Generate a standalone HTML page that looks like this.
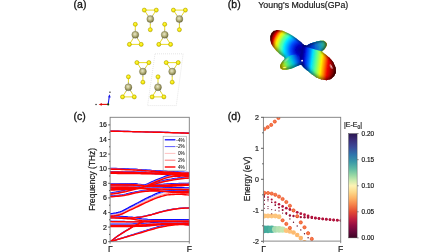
<!DOCTYPE html>
<html><head><meta charset="utf-8"><title>Figure</title>
<style>html,body{margin:0;padding:0;background:#fff;overflow:hidden}svg{display:block}text{font-family:"Liberation Sans", Arial, sans-serif;fill:#151515;stroke:#151515;stroke-width:0.18px}</style>
</head><body>
<svg width="448" height="252" viewBox="0 0 448 252">
<defs>
<radialGradient id="gBig" cx="0.44" cy="0.4" r="0.6"><stop offset="0" stop-color="#e9e7c8"/><stop offset="0.35" stop-color="#c9c698"/><stop offset="0.72" stop-color="#9c9860"/><stop offset="1" stop-color="#6a673a"/></radialGradient>
<radialGradient id="gOr" cx="0.5" cy="0.5" r="0.5"><stop offset="0" stop-color="#f98a5c"/><stop offset="0.45" stop-color="#f4602c"/><stop offset="1" stop-color="#ee4310"/></radialGradient>
<radialGradient id="gSm" cx="0.45" cy="0.42" r="0.6"><stop offset="0" stop-color="#fffa50"/><stop offset="0.6" stop-color="#f6e800"/><stop offset="1" stop-color="#d2c200"/></radialGradient>
<radialGradient id="gUL" gradientUnits="userSpaceOnUse" cx="300.8" cy="50.1" r="33"><stop offset="0" stop-color="#000094"/><stop offset="0.15" stop-color="#0000c0"/><stop offset="0.315" stop-color="#0050ff"/><stop offset="0.41" stop-color="#00a0ff"/><stop offset="0.506" stop-color="#00e8ff"/><stop offset="0.575" stop-color="#40ffc0"/><stop offset="0.642" stop-color="#70ff80"/><stop offset="0.71" stop-color="#c8ff30"/><stop offset="0.773" stop-color="#fff000"/><stop offset="0.84" stop-color="#ff8800"/><stop offset="0.9" stop-color="#f00000"/><stop offset="0.97" stop-color="#8c0000"/><stop offset="1" stop-color="#6c0000"/></radialGradient>
<linearGradient id="gLR" gradientUnits="userSpaceOnUse" x1="300.8" y1="66" x2="335.5" y2="70.3"><stop offset="0" stop-color="#000094"/><stop offset="0.05" stop-color="#0000b8"/><stop offset="0.117" stop-color="#0030f0"/><stop offset="0.214" stop-color="#0080ff"/><stop offset="0.294" stop-color="#00e0ff"/><stop offset="0.414" stop-color="#60ff90"/><stop offset="0.511" stop-color="#c0ff30"/><stop offset="0.571" stop-color="#fff000"/><stop offset="0.669" stop-color="#ff8000"/><stop offset="0.769" stop-color="#f00000"/><stop offset="0.906" stop-color="#900000"/><stop offset="0.983" stop-color="#600000"/></linearGradient>
<linearGradient id="gLL" gradientUnits="userSpaceOnUse" x1="300" y1="58" x2="280.1" y2="66.4"><stop offset="0" stop-color="#0010b0"/><stop offset="0.12" stop-color="#0040e0"/><stop offset="0.26" stop-color="#0088ec"/><stop offset="0.4" stop-color="#00c8dc"/><stop offset="0.56" stop-color="#30e0a0"/><stop offset="0.7" stop-color="#70f060"/><stop offset="0.85" stop-color="#c0e810"/><stop offset="1" stop-color="#e0d000"/></linearGradient>
<linearGradient id="gUR" gradientUnits="userSpaceOnUse" x1="304.5" y1="47.5" x2="327" y2="44.2"><stop offset="0" stop-color="#000890"/><stop offset="0.3" stop-color="#0030c8"/><stop offset="0.5" stop-color="#0868d0"/><stop offset="0.7" stop-color="#1898c0"/><stop offset="0.86" stop-color="#30b088"/><stop offset="1" stop-color="#70a030"/></linearGradient>
<linearGradient id="gCB" x1="0" y1="0" x2="0" y2="1"><stop offset="0" stop-color="#2a1650"/><stop offset="0.06" stop-color="#3a2c78"/><stop offset="0.13" stop-color="#3b4a98"/><stop offset="0.2" stop-color="#2f74ac"/><stop offset="0.27" stop-color="#3a98a8"/><stop offset="0.34" stop-color="#62bca4"/><stop offset="0.4" stop-color="#98d8a4"/><stop offset="0.45" stop-color="#ccebae"/><stop offset="0.5" stop-color="#fdf3b4"/><stop offset="0.56" stop-color="#fdd98a"/><stop offset="0.62" stop-color="#fdb365"/><stop offset="0.68" stop-color="#f6834a"/><stop offset="0.75" stop-color="#e34a33"/><stop offset="0.82" stop-color="#c01f40"/><stop offset="0.88" stop-color="#930c41"/><stop offset="0.94" stop-color="#66083a"/><stop offset="1" stop-color="#3c0424"/></linearGradient>
<filter id="bl1" x="-20%" y="-20%" width="140%" height="140%"><feGaussianBlur stdDeviation="1.1"/></filter>
<filter id="bl15" x="-20%" y="-20%" width="140%" height="140%"><feGaussianBlur stdDeviation="1.5"/></filter>
<filter id="bl08" x="-20%" y="-20%" width="140%" height="140%"><feGaussianBlur stdDeviation="0.8"/></filter>
<filter id="bl05" x="-20%" y="-20%" width="140%" height="140%"><feGaussianBlur stdDeviation="0.5"/></filter>
<filter id="soft" x="-5%" y="-5%" width="110%" height="110%"><feGaussianBlur stdDeviation="0.35"/></filter>
<clipPath id="cpShape"><path d="M305.20 45.30C302.07 44.23 303.90 44.17 299.70 41.00C295.50 37.83 297.37 38.80 292.60 35.80C287.83 32.80 289.70 33.83 285.40 32.00C281.10 30.17 283.03 30.80 279.70 30.30C276.37 29.80 277.77 29.93 275.40 30.50C273.03 31.07 274.10 30.63 272.60 32.00C271.10 33.37 271.70 32.57 270.90 34.60C270.10 36.63 270.27 35.73 270.20 38.10C270.13 40.47 270.07 39.30 270.70 41.70C271.33 44.10 270.77 42.90 272.10 45.30C273.43 47.70 272.63 46.43 274.70 48.90C276.77 51.37 276.00 50.47 278.30 52.70C280.60 54.93 279.57 53.77 281.60 55.60C283.63 57.43 283.93 56.53 284.40 58.20C284.87 59.87 284.03 59.00 283.00 60.60C281.97 62.20 282.23 61.47 281.30 63.00C280.37 64.53 280.57 63.80 280.20 65.20C279.83 66.60 279.80 65.97 280.20 67.20C280.60 68.43 279.97 68.07 281.40 68.90C282.83 69.73 282.00 69.60 284.50 69.70C287.00 69.80 286.00 69.80 288.90 69.20C291.80 68.60 290.30 68.93 293.20 67.90C296.10 66.87 294.93 67.10 297.60 66.10C300.27 65.10 299.17 64.43 301.20 64.90C303.23 65.37 301.40 65.37 303.70 67.50C306.00 69.63 304.97 68.70 308.10 71.30C311.23 73.90 309.50 72.87 313.10 75.30C316.70 77.73 315.07 77.03 318.90 78.60C322.73 80.17 321.27 79.67 324.60 80.00C327.93 80.33 326.30 80.37 328.90 79.60C331.50 78.83 330.40 79.37 332.40 77.70C334.40 76.03 333.77 77.07 334.90 74.60C336.03 72.13 335.90 73.40 335.80 70.30C335.70 67.20 335.97 68.63 334.60 65.30C333.23 61.97 334.10 63.40 331.70 60.30C329.30 57.20 329.97 58.37 327.40 56.00C324.83 53.63 325.73 54.70 324.00 53.20C322.27 51.70 322.13 52.70 322.20 51.50C322.27 50.30 322.97 51.07 324.20 49.60C325.43 48.13 325.07 48.70 325.90 47.10C326.73 45.50 326.57 46.13 326.70 44.80C326.83 43.47 326.93 44.23 326.30 43.10C325.67 41.97 326.17 42.20 324.80 41.40C323.43 40.60 324.50 40.73 322.20 40.70C319.90 40.67 320.80 40.67 317.90 41.30C315.00 41.93 316.43 41.63 313.50 42.60C310.57 43.57 311.87 43.30 309.10 44.20C306.33 45.10 308.33 46.37 305.20 45.30Z"/></clipPath>
<clipPath id="cpC"><rect x="110.1" y="117.3" width="79.2" height="124.4"/></clipPath>
<clipPath id="cpD"><rect x="263.4" y="117.3" width="77.3" height="123.8"/></clipPath>
</defs>
<rect width="448" height="252" fill="#fff"/>
<text x="73.6" y="7.9" font-size="10.5" style="stroke-width:0.32px">(a)</text>
<text x="227.8" y="7.5" font-size="10.5" style="stroke-width:0.32px">(b)</text>
<text x="73.4" y="119.5" font-size="10.5" style="stroke-width:0.32px">(c)</text>
<text x="227.8" y="119.5" font-size="10.5" style="stroke-width:0.32px">(d)</text>
<text x="258.3" y="8.1" font-size="8.7" textLength="90" lengthAdjust="spacingAndGlyphs">Young's Modulus(GPa)</text>
<g id="panel-a">
<path d="M155 53.8 L183.1 53.8 L176.3 105.6 L147.6 105.6 Z" fill="none" stroke="#cdcdcd" stroke-width="0.5" stroke-dasharray="1 1"/>
<path d="M150.3 19.1 L150.3 24.4M150.3 19.1 L147.3 14.6M150.3 19.1 L153.3 14.6" fill="none" stroke="#a9a56a" stroke-width="0.9"/><path d="M144.3 10.1 L156.3 10.1M150.3 24.4 L150.3 29.7M147.3 14.6 L144.3 10.1M153.3 14.6 L156.3 10.1" fill="none" stroke="#e6d70c" stroke-width="0.9" stroke-linecap="round"/><circle cx="150.3" cy="29.7" r="2.05" fill="url(#gSm)" stroke="#a99c00" stroke-width="0.5"/><circle cx="144.3" cy="10.1" r="2.05" fill="url(#gSm)" stroke="#a99c00" stroke-width="0.5"/><circle cx="156.3" cy="10.1" r="2.05" fill="url(#gSm)" stroke="#a99c00" stroke-width="0.5"/><circle cx="150.3" cy="19.1" r="3.5" fill="url(#gBig)" stroke="#66633a" stroke-width="0.3"/>
<path d="M179.4 19.1 L179.4 24.4M179.4 19.1 L176.4 14.6M179.4 19.1 L182.4 14.6" fill="none" stroke="#a9a56a" stroke-width="0.9"/><path d="M173.4 10.1 L185.4 10.1M179.4 24.4 L179.4 29.7M176.4 14.6 L173.4 10.1M182.4 14.6 L185.4 10.1" fill="none" stroke="#e6d70c" stroke-width="0.9" stroke-linecap="round"/><circle cx="179.4" cy="29.7" r="2.05" fill="url(#gSm)" stroke="#a99c00" stroke-width="0.5"/><circle cx="173.4" cy="10.1" r="2.05" fill="url(#gSm)" stroke="#a99c00" stroke-width="0.5"/><circle cx="185.4" cy="10.1" r="2.05" fill="url(#gSm)" stroke="#a99c00" stroke-width="0.5"/><circle cx="179.4" cy="19.1" r="3.5" fill="url(#gBig)" stroke="#66633a" stroke-width="0.3"/>
<path d="M135.3 34.8 L135.3 29.5M135.3 34.8 L132.4 39.6M135.3 34.8 L138.2 39.6" fill="none" stroke="#a9a56a" stroke-width="0.9"/><path d="M129.4 44.4 L141.2 44.4M135.3 29.5 L135.3 24.3M132.4 39.6 L129.4 44.4M138.2 39.6 L141.2 44.4" fill="none" stroke="#e6d70c" stroke-width="0.9" stroke-linecap="round"/><circle cx="135.3" cy="24.3" r="2.05" fill="url(#gSm)" stroke="#a99c00" stroke-width="0.5"/><circle cx="129.4" cy="44.4" r="2.05" fill="url(#gSm)" stroke="#a99c00" stroke-width="0.5"/><circle cx="141.2" cy="44.4" r="2.05" fill="url(#gSm)" stroke="#a99c00" stroke-width="0.5"/><circle cx="135.3" cy="34.8" r="3.5" fill="url(#gBig)" stroke="#66633a" stroke-width="0.3"/>
<path d="M164.7 34.8 L164.7 29.5M164.7 34.8 L161.8 39.6M164.7 34.8 L167.6 39.6" fill="none" stroke="#a9a56a" stroke-width="0.9"/><path d="M158.8 44.4 L170.6 44.4M164.7 29.5 L164.7 24.3M161.8 39.6 L158.8 44.4M167.6 39.6 L170.6 44.4" fill="none" stroke="#e6d70c" stroke-width="0.9" stroke-linecap="round"/><circle cx="164.7" cy="24.3" r="2.05" fill="url(#gSm)" stroke="#a99c00" stroke-width="0.5"/><circle cx="158.8" cy="44.4" r="2.05" fill="url(#gSm)" stroke="#a99c00" stroke-width="0.5"/><circle cx="170.6" cy="44.4" r="2.05" fill="url(#gSm)" stroke="#a99c00" stroke-width="0.5"/><circle cx="164.7" cy="34.8" r="3.5" fill="url(#gBig)" stroke="#66633a" stroke-width="0.3"/>
<path d="M142.9 71.6 L142.9 76.9M142.9 71.6 L139.9 67.1M142.9 71.6 L145.9 67.1" fill="none" stroke="#a9a56a" stroke-width="0.9"/><path d="M136.9 62.6 L148.9 62.6M142.9 76.9 L142.9 82.2M139.9 67.1 L136.9 62.6M145.9 67.1 L148.9 62.6" fill="none" stroke="#e6d70c" stroke-width="0.9" stroke-linecap="round"/><circle cx="142.9" cy="82.2" r="2.05" fill="url(#gSm)" stroke="#a99c00" stroke-width="0.5"/><circle cx="136.9" cy="62.6" r="2.05" fill="url(#gSm)" stroke="#a99c00" stroke-width="0.5"/><circle cx="148.9" cy="62.6" r="2.05" fill="url(#gSm)" stroke="#a99c00" stroke-width="0.5"/><circle cx="142.9" cy="71.6" r="3.5" fill="url(#gBig)" stroke="#66633a" stroke-width="0.3"/>
<path d="M172.2 71.6 L172.2 76.9M172.2 71.6 L169.2 67.1M172.2 71.6 L175.2 67.1" fill="none" stroke="#a9a56a" stroke-width="0.9"/><path d="M166.2 62.6 L178.2 62.6M172.2 76.9 L172.2 82.2M169.2 67.1 L166.2 62.6M175.2 67.1 L178.2 62.6" fill="none" stroke="#e6d70c" stroke-width="0.9" stroke-linecap="round"/><circle cx="172.2" cy="82.2" r="2.05" fill="url(#gSm)" stroke="#a99c00" stroke-width="0.5"/><circle cx="166.2" cy="62.6" r="2.05" fill="url(#gSm)" stroke="#a99c00" stroke-width="0.5"/><circle cx="178.2" cy="62.6" r="2.05" fill="url(#gSm)" stroke="#a99c00" stroke-width="0.5"/><circle cx="172.2" cy="71.6" r="3.5" fill="url(#gBig)" stroke="#66633a" stroke-width="0.3"/>
<path d="M128.4 87.3 L128.4 82.0M128.4 87.3 L125.5 92.1M128.4 87.3 L131.4 92.1" fill="none" stroke="#a9a56a" stroke-width="0.9"/><path d="M122.5 96.9 L134.3 96.9M128.4 82.0 L128.4 76.8M125.5 92.1 L122.5 96.9M131.4 92.1 L134.3 96.9" fill="none" stroke="#e6d70c" stroke-width="0.9" stroke-linecap="round"/><circle cx="128.4" cy="76.8" r="2.05" fill="url(#gSm)" stroke="#a99c00" stroke-width="0.5"/><circle cx="122.5" cy="96.9" r="2.05" fill="url(#gSm)" stroke="#a99c00" stroke-width="0.5"/><circle cx="134.3" cy="96.9" r="2.05" fill="url(#gSm)" stroke="#a99c00" stroke-width="0.5"/><circle cx="128.4" cy="87.3" r="3.5" fill="url(#gBig)" stroke="#66633a" stroke-width="0.3"/>
<path d="M158.0 87.3 L158.0 82.0M158.0 87.3 L155.1 92.1M158.0 87.3 L160.9 92.1" fill="none" stroke="#a9a56a" stroke-width="0.9"/><path d="M152.1 96.9 L163.9 96.9M158.0 82.0 L158.0 76.8M155.1 92.1 L152.1 96.9M160.9 92.1 L163.9 96.9" fill="none" stroke="#e6d70c" stroke-width="0.9" stroke-linecap="round"/><circle cx="158.0" cy="76.8" r="2.05" fill="url(#gSm)" stroke="#a99c00" stroke-width="0.5"/><circle cx="152.1" cy="96.9" r="2.05" fill="url(#gSm)" stroke="#a99c00" stroke-width="0.5"/><circle cx="163.9" cy="96.9" r="2.05" fill="url(#gSm)" stroke="#a99c00" stroke-width="0.5"/><circle cx="158.0" cy="87.3" r="3.5" fill="url(#gBig)" stroke="#66633a" stroke-width="0.3"/>
<path d="M108.2 104.4 L101 104.4" stroke="#e00808" stroke-width="1.1"/><path d="M98.6 104.4 l3.2 -1.35 v2.7 z" fill="#e00808"/>
<path d="M108.2 104.4 L109.2 97" stroke="#1414e8" stroke-width="1.1"/><path d="M109.55 94.2 l1.15 3.3 l-2.7 -0.35 z" fill="#1414e8"/>
<circle cx="108.2" cy="104.4" r="1.05" fill="#0b4f0b"/>
<rect x="95.4" y="103.9" width="1.3" height="1.2" fill="#222"/><rect x="109.3" y="91.6" width="1.3" height="1.2" fill="#222"/>
</g>
<g id="panel-b" filter="url(#soft)">
<g clip-path="url(#cpShape)">
<rect x="265" y="25" width="80" height="60" fill="url(#gUL)"/>
<path d="M306 30 L302 48 L299.5 56 L300.5 72 L345 90 L345 30 Z" fill="url(#gLR)" filter="url(#bl05)"/>
<path d="M303.5 46.3 L306 44 L314 40 L323 39 L329 43 L328.5 48 L322.6 51.6 L316 49.8 L310 47.9 Z" fill="url(#gUR)" filter="url(#bl05)"/>
<path d="M303 62.8 L299.5 58.5 L296 54.6 L291.5 54.9 L288.9 56.2 L285.4 58.8 L281.9 62.3 L278.5 66.4 L280 70.5 L286 71.2 L294 69.5 L302.5 65.5 Z" fill="url(#gLL)" filter="url(#bl05)"/>
<path d="M305.20 45.30C302.07 44.23 303.90 44.17 299.70 41.00C295.50 37.83 297.37 38.80 292.60 35.80C287.83 32.80 289.70 33.83 285.40 32.00C281.10 30.17 283.03 30.80 279.70 30.30C276.37 29.80 277.77 29.93 275.40 30.50C273.03 31.07 274.10 30.63 272.60 32.00C271.10 33.37 271.70 32.57 270.90 34.60C270.10 36.63 270.27 35.73 270.20 38.10C270.13 40.47 270.07 39.30 270.70 41.70C271.33 44.10 270.77 42.90 272.10 45.30C273.43 47.70 272.63 46.43 274.70 48.90C276.77 51.37 276.00 50.47 278.30 52.70C280.60 54.93 279.57 53.77 281.60 55.60C283.63 57.43 283.93 56.53 284.40 58.20C284.87 59.87 284.03 59.00 283.00 60.60C281.97 62.20 282.23 61.47 281.30 63.00C280.37 64.53 280.57 63.80 280.20 65.20C279.83 66.60 279.80 65.97 280.20 67.20C280.60 68.43 279.97 68.07 281.40 68.90C282.83 69.73 282.00 69.60 284.50 69.70C287.00 69.80 286.00 69.80 288.90 69.20C291.80 68.60 290.30 68.93 293.20 67.90C296.10 66.87 294.93 67.10 297.60 66.10C300.27 65.10 299.17 64.43 301.20 64.90C303.23 65.37 301.40 65.37 303.70 67.50C306.00 69.63 304.97 68.70 308.10 71.30C311.23 73.90 309.50 72.87 313.10 75.30C316.70 77.73 315.07 77.03 318.90 78.60C322.73 80.17 321.27 79.67 324.60 80.00C327.93 80.33 326.30 80.37 328.90 79.60C331.50 78.83 330.40 79.37 332.40 77.70C334.40 76.03 333.77 77.07 334.90 74.60C336.03 72.13 335.90 73.40 335.80 70.30C335.70 67.20 335.97 68.63 334.60 65.30C333.23 61.97 334.10 63.40 331.70 60.30C329.30 57.20 329.97 58.37 327.40 56.00C324.83 53.63 325.73 54.70 324.00 53.20C322.27 51.70 322.13 52.70 322.20 51.50C322.27 50.30 322.97 51.07 324.20 49.60C325.43 48.13 325.07 48.70 325.90 47.10C326.73 45.50 326.57 46.13 326.70 44.80C326.83 43.47 326.93 44.23 326.30 43.10C325.67 41.97 326.17 42.20 324.80 41.40C323.43 40.60 324.50 40.73 322.20 40.70C319.90 40.67 320.80 40.67 317.90 41.30C315.00 41.93 316.43 41.63 313.50 42.60C310.57 43.57 311.87 43.30 309.10 44.20C306.33 45.10 308.33 46.37 305.20 45.30Z" fill="none" stroke="#000" stroke-opacity="0.5" stroke-width="1.7" filter="url(#bl08)"/>
<path d="M305.20 45.30C302.07 44.23 303.90 44.17 299.70 41.00C295.50 37.83 297.37 38.80 292.60 35.80C287.83 32.80 289.70 33.83 285.40 32.00C281.10 30.17 283.03 30.80 279.70 30.30C276.37 29.80 277.77 29.93 275.40 30.50C273.03 31.07 274.10 30.63 272.60 32.00C271.10 33.37 271.70 32.57 270.90 34.60C270.10 36.63 270.27 35.73 270.20 38.10C270.13 40.47 270.07 39.30 270.70 41.70C271.33 44.10 270.77 42.90 272.10 45.30C273.43 47.70 272.63 46.43 274.70 48.90C276.77 51.37 276.00 50.47 278.30 52.70C280.60 54.93 279.57 53.77 281.60 55.60C283.63 57.43 283.93 56.53 284.40 58.20C284.87 59.87 284.03 59.00 283.00 60.60C281.97 62.20 282.23 61.47 281.30 63.00C280.37 64.53 280.57 63.80 280.20 65.20C279.83 66.60 279.80 65.97 280.20 67.20C280.60 68.43 279.97 68.07 281.40 68.90C282.83 69.73 282.00 69.60 284.50 69.70C287.00 69.80 286.00 69.80 288.90 69.20C291.80 68.60 290.30 68.93 293.20 67.90C296.10 66.87 294.93 67.10 297.60 66.10C300.27 65.10 299.17 64.43 301.20 64.90C303.23 65.37 301.40 65.37 303.70 67.50C306.00 69.63 304.97 68.70 308.10 71.30C311.23 73.90 309.50 72.87 313.10 75.30C316.70 77.73 315.07 77.03 318.90 78.60C322.73 80.17 321.27 79.67 324.60 80.00C327.93 80.33 326.30 80.37 328.90 79.60C331.50 78.83 330.40 79.37 332.40 77.70C334.40 76.03 333.77 77.07 334.90 74.60C336.03 72.13 335.90 73.40 335.80 70.30C335.70 67.20 335.97 68.63 334.60 65.30C333.23 61.97 334.10 63.40 331.70 60.30C329.30 57.20 329.97 58.37 327.40 56.00C324.83 53.63 325.73 54.70 324.00 53.20C322.27 51.70 322.13 52.70 322.20 51.50C322.27 50.30 322.97 51.07 324.20 49.60C325.43 48.13 325.07 48.70 325.90 47.10C326.73 45.50 326.57 46.13 326.70 44.80C326.83 43.47 326.93 44.23 326.30 43.10C325.67 41.97 326.17 42.20 324.80 41.40C323.43 40.60 324.50 40.73 322.20 40.70C319.90 40.67 320.80 40.67 317.90 41.30C315.00 41.93 316.43 41.63 313.50 42.60C310.57 43.57 311.87 43.30 309.10 44.20C306.33 45.10 308.33 46.37 305.20 45.30Z" fill="none" stroke="#000" stroke-opacity="0.3" stroke-width="2.6" transform="translate(0.6 -1.3)" filter="url(#bl15)"/>
<path d="M271 44 Q277 54 288 59 L300 62 Q309 76 322 80 L336 78 L336 86 L268 86 Z" fill="#000" fill-opacity="0.0"/>
<ellipse cx="331.2" cy="66.6" rx="0.8" ry="2.6" transform="rotate(-28 331.2 66.6)" fill="#fff" fill-opacity="0.7" filter="url(#bl05)"/>
<ellipse cx="284.6" cy="67.5" rx="2.0" ry="0.75" transform="rotate(-10 284.6 67.5)" fill="#ffff60" fill-opacity="0.95" filter="url(#bl05)"/>
<ellipse cx="286.3" cy="60" rx="3.5" ry="0.8" transform="rotate(-38 286.3 60)" fill="#c0fff0" fill-opacity="0.45" filter="url(#bl05)"/>
<circle cx="302.1" cy="60.7" r="0.9" fill="#fff"/>
</g></g>
<g id="panel-c">
<g clip-path="url(#cpC)" fill="none" stroke-linejoin="round">
<path d="M110.1 131.0L112.1 131.1L114.1 131.1L116.0 131.1L118.0 131.2L120.0 131.2L122.0 131.3L124.0 131.3L125.9 131.3L127.9 131.4L129.9 131.4L131.9 131.5L133.9 131.5L135.8 131.6L137.8 131.6L139.8 131.7L141.8 131.7L143.8 131.8L145.7 131.8L147.7 131.8L149.7 131.9L151.7 131.9L153.7 132.0L155.6 132.1L157.6 132.1L159.6 132.2L161.6 132.2L163.6 132.3L165.5 132.3L167.5 132.4L169.5 132.4L171.5 132.5L173.5 132.6L175.4 132.6L177.4 132.7L179.4 132.7L181.4 132.8L183.4 132.9L185.3 132.9L187.3 133.0L189.3 133.1M110.1 168.3L112.1 168.3L114.1 168.4L116.0 168.4L118.0 168.5L120.0 168.6L122.0 168.6L124.0 168.7L125.9 168.8L127.9 168.9L129.9 169.0L131.9 169.0L133.9 169.1L135.8 169.2L137.8 169.4L139.8 169.5L141.8 169.6L143.8 169.8L145.7 169.9L147.7 170.1L149.7 170.2L151.7 170.4L153.7 170.5L155.6 170.6L157.6 170.8L159.6 170.9L161.6 171.0L163.6 171.1L165.5 171.2L167.5 171.4L169.5 171.5L171.5 171.6L173.5 171.7L175.4 171.8L177.4 171.9L179.4 172.0L181.4 172.1L183.4 172.2L185.3 172.3L187.3 172.4L189.3 172.5M110.1 171.7L112.1 171.7L114.1 171.7L116.0 171.7L118.0 171.7L120.0 171.8L122.0 171.8L124.0 171.8L125.9 171.8L127.9 171.8L129.9 171.9L131.9 171.9L133.9 171.9L135.8 172.0L137.8 172.0L139.8 172.1L141.8 172.1L143.8 172.2L145.7 172.2L147.7 172.3L149.7 172.4L151.7 172.5L153.7 172.5L155.6 172.6L157.6 172.7L159.6 172.7L161.6 172.8L163.6 172.9L165.5 172.9L167.5 173.0L169.5 173.1L171.5 173.1L173.5 173.2L175.4 173.3L177.4 173.3L179.4 173.4L181.4 173.5L183.4 173.5L185.3 173.6L187.3 173.7L189.3 173.8M110.1 173.0L112.1 173.0L114.1 173.0L116.0 173.0L118.0 173.0L120.0 173.1L122.0 173.1L124.0 173.1L125.9 173.1L127.9 173.1L129.9 173.1L131.9 173.1L133.9 173.2L135.8 173.2L137.8 173.2L139.8 173.2L141.8 173.3L143.8 173.3L145.7 173.3L147.7 173.4L149.7 173.4L151.7 173.5L153.7 173.5L155.6 173.6L157.6 173.6L159.6 173.7L161.6 173.7L163.6 173.8L165.5 173.9L167.5 174.0L169.5 174.1L171.5 174.2L173.5 174.3L175.4 174.4L177.4 174.5L179.4 174.6L181.4 174.7L183.4 174.8L185.3 174.9L187.3 175.0L189.3 175.1M110.1 192.8L112.1 192.6L114.1 192.3L116.0 192.0L118.0 191.7L120.0 191.3L122.0 190.9L124.0 190.5L125.9 190.0L127.9 189.5L129.9 189.0L131.9 188.4L133.9 188.0L135.8 187.5L137.8 187.1L139.8 186.6L141.8 186.0L143.8 185.4L145.7 184.6L147.7 183.8L149.7 182.8L151.7 181.9L153.7 181.0L155.6 180.2L157.6 179.4L159.6 178.6L161.6 177.8L163.6 177.0L165.5 176.2L167.5 175.6L169.5 175.1L171.5 174.7L173.5 174.4L175.4 174.3L177.4 174.2L179.4 174.2L181.4 174.1L183.4 174.1L185.3 174.2L187.3 174.3L189.3 174.4M110.1 189.0L112.1 189.0L114.1 188.9L116.0 188.9L118.0 188.8L120.0 188.7L122.0 188.6L124.0 188.5L125.9 188.3L127.9 188.2L129.9 188.0L131.9 187.7L133.9 187.5L135.8 187.3L137.8 187.0L139.8 186.7L141.8 186.4L143.8 186.0L145.7 185.5L147.7 184.9L149.7 184.3L151.7 183.8L153.7 183.2L155.6 182.6L157.6 182.1L159.6 181.5L161.6 181.0L163.6 180.6L165.5 180.1L167.5 179.7L169.5 179.3L171.5 179.0L173.5 178.6L175.4 178.3L177.4 178.1L179.4 177.8L181.4 177.6L183.4 177.3L185.3 177.1L187.3 177.0L189.3 176.8M110.1 183.5L112.1 183.5L114.1 183.5L116.0 183.5L118.0 183.5L120.0 183.5L122.0 183.5L124.0 183.5L125.9 183.5L127.9 183.5L129.9 183.6L131.9 183.6L133.9 183.6L135.8 183.7L137.8 184.1L139.8 184.4L141.8 184.7L143.8 184.8L145.7 184.8L147.7 184.7L149.7 184.7L151.7 184.7L153.7 184.6L155.6 184.5L157.6 184.5L159.6 184.4L161.6 184.3L163.6 184.2L165.5 184.0L167.5 183.9L169.5 183.8L171.5 183.7L173.5 183.6L175.4 183.5L177.4 183.5L179.4 183.4L181.4 183.4L183.4 183.3L185.3 183.3L187.3 183.3L189.3 183.2M110.1 185.1L112.1 185.1L114.1 185.1L116.0 185.1L118.0 185.2L120.0 185.2L122.0 185.2L124.0 185.3L125.9 185.4L127.9 185.4L129.9 185.5L131.9 185.5L133.9 185.6L135.8 185.7L137.8 185.9L139.8 186.2L141.8 186.4L143.8 186.6L145.7 186.7L147.7 186.8L149.7 186.9L151.7 187.0L153.7 187.0L155.6 187.1L157.6 187.1L159.6 187.2L161.6 187.2L163.6 187.3L165.5 187.3L167.5 187.4L169.5 187.4L171.5 187.5L173.5 187.5L175.4 187.6L177.4 187.6L179.4 187.6L181.4 187.7L183.4 187.7L185.3 187.8L187.3 187.8L189.3 187.8M110.1 187.9L112.1 187.7L114.1 187.6L116.0 187.5L118.0 187.4L120.0 187.3L122.0 187.2L124.0 187.2L125.9 187.2L127.9 187.2L129.9 187.1L131.9 187.1L133.9 187.1L135.8 187.2L137.8 187.3L139.8 187.4L141.8 187.5L143.8 187.7L145.7 187.9L147.7 188.1L149.7 188.4L151.7 188.8L153.7 189.1L155.6 189.5L157.6 189.7L159.6 189.9L161.6 190.1L163.6 190.3L165.5 190.5L167.5 190.7L169.5 190.8L171.5 190.8L173.5 190.8L175.4 190.8L177.4 190.8L179.4 190.8L181.4 190.8L183.4 190.7L185.3 190.7L187.3 190.6L189.3 190.5M110.1 184.3L112.1 184.3L114.1 184.3L116.0 184.3L118.0 184.3L120.0 184.3L122.0 184.3L124.0 184.3L125.9 184.4L127.9 184.4L129.9 184.4L131.9 184.5L133.9 184.5L135.8 184.5L137.8 184.6L139.8 184.7L141.8 184.9L143.8 185.1L145.7 185.3L147.7 185.5L149.7 185.6L151.7 185.6L153.7 185.6L155.6 185.6L157.6 185.6L159.6 185.6L161.6 185.6L163.6 185.6L165.5 185.6L167.5 185.6L169.5 185.5L171.5 185.5L173.5 185.4L175.4 185.3L177.4 185.2L179.4 185.1L181.4 185.0L183.4 184.9L185.3 184.7L187.3 184.6L189.3 184.4M110.1 195.8L112.1 195.8L114.1 195.7L116.0 195.5L118.0 195.3L120.0 195.1L122.0 194.9L124.0 194.6L125.9 194.2L127.9 193.7L129.9 193.2L131.9 192.7L133.9 192.3L135.8 191.9L137.8 191.5L139.8 191.1L141.8 190.8L143.8 190.6L145.7 190.3L147.7 190.2L149.7 190.1L151.7 190.1L153.7 190.1L155.6 190.1L157.6 190.1L159.6 190.1L161.6 190.3L163.6 190.4L165.5 190.6L167.5 190.8L169.5 191.0L171.5 191.2L173.5 191.3L175.4 191.4L177.4 191.5L179.4 191.6L181.4 191.7L183.4 191.7L185.3 191.8L187.3 191.9L189.3 191.9M110.1 213.7L112.1 213.5L114.1 213.2L116.0 212.9L118.0 212.4L120.0 211.8L122.0 211.1L124.0 210.1L125.9 209.1L127.9 208.0L129.9 206.9L131.9 205.9L133.9 204.9L135.8 203.8L137.8 202.8L139.8 201.7L141.8 200.6L143.8 199.6L145.7 198.5L147.7 197.6L149.7 196.6L151.7 195.7L153.7 194.7L155.6 193.8L157.6 193.0L159.6 192.3L161.6 191.6L163.6 191.0L165.5 190.4L167.5 190.0L169.5 189.7L171.5 189.6L173.5 189.5L175.4 189.5L177.4 189.4L179.4 189.4L181.4 189.5L183.4 189.6L185.3 189.7L187.3 189.9L189.3 190.2M110.1 217.7L112.1 217.7L114.1 217.7L116.0 217.7L118.0 217.7L120.0 217.7L122.0 217.7L124.0 217.7L125.9 217.7L127.9 217.7L129.9 217.7L131.9 217.7L133.9 217.6L135.8 217.4L137.8 217.2L139.8 217.0L141.8 216.7L143.8 216.3L145.7 215.9L147.7 215.4L149.7 214.9L151.7 214.5L153.7 213.9L155.6 213.3L157.6 212.7L159.6 212.2L161.6 211.7L163.6 211.2L165.5 210.7L167.5 210.2L169.5 209.8L171.5 209.4L173.5 209.1L175.4 208.8L177.4 208.5L179.4 208.3L181.4 208.1L183.4 208.0L185.3 207.9L187.3 207.8L189.3 207.8M110.1 215.9L112.1 215.9L114.1 216.0L116.0 216.0L118.0 216.1L120.0 216.3L122.0 216.4L124.0 216.5L125.9 216.7L127.9 216.9L129.9 217.0L131.9 217.2L133.9 217.6L135.8 217.9L137.8 218.3L139.8 218.6L141.8 218.9L143.8 219.1L145.7 219.2L147.7 219.4L149.7 219.5L151.7 219.6L153.7 219.6L155.6 219.7L157.6 219.7L159.6 219.7L161.6 219.7L163.6 219.7L165.5 219.7L167.5 219.7L169.5 219.7L171.5 219.7L173.5 219.7L175.4 219.7L177.4 219.6L179.4 219.6L181.4 219.6L183.4 219.6L185.3 219.6L187.3 219.6L189.3 219.5M110.1 221.2L112.1 221.3L114.1 221.3L116.0 221.3L118.0 221.4L120.0 221.4L122.0 221.4L124.0 221.4L125.9 221.5L127.9 221.5L129.9 221.5L131.9 221.5L133.9 221.5L135.8 221.5L137.8 221.5L139.8 221.5L141.8 221.4L143.8 221.4L145.7 221.4L147.7 221.3L149.7 221.3L151.7 221.3L153.7 221.2L155.6 221.2L157.6 221.2L159.6 221.2L161.6 221.2L163.6 221.2L165.5 221.1L167.5 221.1L169.5 221.1L171.5 221.1L173.5 221.1L175.4 221.1L177.4 221.1L179.4 221.1L181.4 221.1L183.4 221.1L185.3 221.1L187.3 221.1L189.3 221.1M110.1 224.2L112.1 224.2L114.1 224.2L116.0 224.2L118.0 224.2L120.0 224.2L122.0 224.2L124.0 224.2L125.9 224.2L127.9 224.1L129.9 224.1L131.9 224.0L133.9 223.9L135.8 223.8L137.8 223.6L139.8 223.5L141.8 223.4L143.8 223.3L145.7 223.2L147.7 223.0L149.7 222.9L151.7 222.7L153.7 222.6L155.6 222.4L157.6 222.3L159.6 222.2L161.6 222.1L163.6 222.1L165.5 222.0L167.5 222.0L169.5 222.0L171.5 222.0L173.5 221.9L175.4 221.9L177.4 221.9L179.4 221.9L181.4 221.9L183.4 221.9L185.3 221.9L187.3 221.9L189.3 221.9M110.1 226.3L112.1 226.3L114.1 226.3L116.0 226.3L118.0 226.3L120.0 226.3L122.0 226.3L124.0 226.3L125.9 226.3L127.9 226.3L129.9 226.3L131.9 226.3L133.9 226.3L135.8 226.3L137.8 226.2L139.8 226.1L141.8 226.0L143.8 225.9L145.7 225.8L147.7 225.7L149.7 225.5L151.7 225.4L153.7 225.2L155.6 224.9L157.6 224.7L159.6 224.5L161.6 224.3L163.6 224.1L165.5 224.1L167.5 224.1L169.5 224.1L171.5 224.1L173.5 224.1L175.4 224.1L177.4 224.2L179.4 224.2L181.4 224.3L183.4 224.4L185.3 224.5L187.3 224.6L189.3 224.8M110.1 241.7L112.1 240.2L114.1 238.7L116.0 237.2L118.0 235.8L120.0 234.4L122.0 233.1L124.0 231.9L125.9 230.7L127.9 229.5L129.9 228.3L131.9 227.0L133.9 225.7L135.8 224.6L137.8 223.6L139.8 222.7L141.8 222.0L143.8 221.4L145.7 221.1L147.7 220.8L149.7 220.6L151.7 220.5L153.7 220.4L155.6 220.4L157.6 220.4L159.6 220.4L161.6 220.5L163.6 220.5L165.5 220.5L167.5 220.5L169.5 220.6L171.5 220.6L173.5 220.7L175.4 220.7L177.4 220.8L179.4 220.9L181.4 221.0L183.4 221.2L185.3 221.3L187.3 221.4L189.3 221.6M110.1 241.7L112.1 241.1L114.1 240.5L116.0 239.9L118.0 239.2L120.0 238.6L122.0 238.0L124.0 237.4L125.9 236.8L127.9 236.1L129.9 235.5L131.9 234.9L133.9 234.3L135.8 233.7L137.8 233.1L139.8 232.4L141.8 231.8L143.8 231.2L145.7 230.6L147.7 229.9L149.7 229.3L151.7 228.7L153.7 228.0L155.6 227.5L157.6 226.9L159.6 226.4L161.6 225.9L163.6 225.5L165.5 225.0L167.5 224.7L169.5 224.3L171.5 224.0L173.5 223.8L175.4 223.5L177.4 223.4L179.4 223.4L181.4 223.3L183.4 223.3L185.3 223.2L187.3 223.2L189.3 223.2" stroke="#0000ff" stroke-width="1.25"/>
<path d="M110.1 131.1L112.1 131.1L114.1 131.1L116.0 131.2L118.0 131.2L120.0 131.3L122.0 131.3L124.0 131.3L125.9 131.4L127.9 131.4L129.9 131.5L131.9 131.5L133.9 131.6L135.8 131.6L137.8 131.6L139.8 131.7L141.8 131.7L143.8 131.8L145.7 131.8L147.7 131.9L149.7 131.9L151.7 132.0L153.7 132.0L155.6 132.1L157.6 132.1L159.6 132.2L161.6 132.3L163.6 132.3L165.5 132.4L167.5 132.4L169.5 132.5L171.5 132.5L173.5 132.6L175.4 132.7L177.4 132.7L179.4 132.8L181.4 132.9L183.4 132.9L185.3 133.0L187.3 133.0L189.3 133.1M110.1 168.5L112.1 168.5L114.1 168.6L116.0 168.6L118.0 168.7L120.0 168.8L122.0 168.8L124.0 168.9L125.9 169.0L127.9 169.1L129.9 169.2L131.9 169.3L133.9 169.4L135.8 169.5L137.8 169.6L139.8 169.7L141.8 169.8L143.8 170.0L145.7 170.1L147.7 170.3L149.7 170.4L151.7 170.6L153.7 170.7L155.6 170.8L157.6 171.0L159.6 171.1L161.6 171.2L163.6 171.3L165.5 171.4L167.5 171.6L169.5 171.7L171.5 171.8L173.5 171.9L175.4 172.0L177.4 172.1L179.4 172.2L181.4 172.3L183.4 172.4L185.3 172.5L187.3 172.6L189.3 172.7M110.1 171.8L112.1 171.8L114.1 171.9L116.0 171.9L118.0 171.9L120.0 171.9L122.0 171.9L124.0 171.9L125.9 172.0L127.9 172.0L129.9 172.0L131.9 172.0L133.9 172.1L135.8 172.1L137.8 172.1L139.8 172.2L141.8 172.2L143.8 172.3L145.7 172.4L147.7 172.4L149.7 172.5L151.7 172.6L153.7 172.7L155.6 172.7L157.6 172.8L159.6 172.9L161.6 172.9L163.6 173.0L165.5 173.1L167.5 173.1L169.5 173.2L171.5 173.3L173.5 173.3L175.4 173.4L177.4 173.5L179.4 173.5L181.4 173.6L183.4 173.7L185.3 173.7L187.3 173.8L189.3 173.9M110.1 173.1L112.1 173.1L114.1 173.1L116.0 173.1L118.0 173.1L120.0 173.2L122.0 173.2L124.0 173.2L125.9 173.2L127.9 173.2L129.9 173.2L131.9 173.3L133.9 173.3L135.8 173.3L137.8 173.3L139.8 173.3L141.8 173.4L143.8 173.4L145.7 173.4L147.7 173.5L149.7 173.5L151.7 173.6L153.7 173.6L155.6 173.7L157.6 173.7L159.6 173.8L161.6 173.8L163.6 173.9L165.5 174.0L167.5 174.1L169.5 174.2L171.5 174.3L173.5 174.4L175.4 174.5L177.4 174.6L179.4 174.7L181.4 174.8L183.4 174.9L185.3 175.0L187.3 175.1L189.3 175.2M110.1 193.2L112.1 192.9L114.1 192.7L116.0 192.4L118.0 192.0L120.0 191.7L122.0 191.3L124.0 190.9L125.9 190.4L127.9 189.9L129.9 189.4L131.9 188.8L133.9 188.4L135.8 187.9L137.8 187.5L139.8 187.0L141.8 186.4L143.8 185.8L145.7 185.1L147.7 184.2L149.7 183.2L151.7 182.3L153.7 181.4L155.6 180.6L157.6 179.8L159.6 179.0L161.6 178.2L163.6 177.4L165.5 176.7L167.5 176.1L169.5 175.6L171.5 175.2L173.5 174.9L175.4 174.8L177.4 174.7L179.4 174.7L181.4 174.6L183.4 174.6L185.3 174.7L187.3 174.8L189.3 174.9M110.1 189.2L112.1 189.2L114.1 189.2L116.0 189.1L118.0 189.1L120.0 189.0L122.0 188.9L124.0 188.8L125.9 188.6L127.9 188.4L129.9 188.2L131.9 188.0L133.9 187.8L135.8 187.5L137.8 187.3L139.8 187.0L141.8 186.7L143.8 186.3L145.7 185.7L147.7 185.2L149.7 184.6L151.7 184.1L153.7 183.5L155.6 182.9L157.6 182.4L159.6 181.8L161.6 181.3L163.6 180.9L165.5 180.5L167.5 180.0L169.5 179.6L171.5 179.3L173.5 178.9L175.4 178.6L177.4 178.4L179.4 178.1L181.4 177.9L183.4 177.7L185.3 177.5L187.3 177.3L189.3 177.1M110.1 183.7L112.1 183.7L114.1 183.7L116.0 183.7L118.0 183.8L120.0 183.8L122.0 183.8L124.0 183.8L125.9 183.8L127.9 183.8L129.9 183.8L131.9 183.9L133.9 183.9L135.8 184.0L137.8 184.3L139.8 184.7L141.8 185.0L143.8 185.1L145.7 185.1L147.7 185.0L149.7 185.0L151.7 184.9L153.7 184.9L155.6 184.8L157.6 184.8L159.6 184.7L161.6 184.6L163.6 184.5L165.5 184.3L167.5 184.2L169.5 184.1L171.5 184.0L173.5 183.9L175.4 183.8L177.4 183.8L179.4 183.7L181.4 183.7L183.4 183.6L185.3 183.6L187.3 183.5L189.3 183.5M110.1 185.6L112.1 185.6L114.1 185.6L116.0 185.6L118.0 185.7L120.0 185.7L122.0 185.7L124.0 185.8L125.9 185.8L127.9 185.9L129.9 186.0L131.9 186.0L133.9 186.1L135.8 186.2L137.8 186.4L139.8 186.6L141.8 186.9L143.8 187.1L145.7 187.2L147.7 187.3L149.7 187.4L151.7 187.4L153.7 187.5L155.6 187.6L157.6 187.6L159.6 187.7L161.6 187.7L163.6 187.8L165.5 187.8L167.5 187.8L169.5 187.9L171.5 187.9L173.5 188.0L175.4 188.0L177.4 188.1L179.4 188.1L181.4 188.2L183.4 188.2L185.3 188.2L187.3 188.3L189.3 188.3M110.1 188.1L112.1 188.0L114.1 187.8L116.0 187.7L118.0 187.6L120.0 187.6L122.0 187.5L124.0 187.5L125.9 187.4L127.9 187.4L129.9 187.4L131.9 187.4L133.9 187.4L135.8 187.4L137.8 187.5L139.8 187.6L141.8 187.8L143.8 188.0L145.7 188.1L147.7 188.4L149.7 188.7L151.7 189.0L153.7 189.4L155.6 189.7L157.6 190.0L159.6 190.2L161.6 190.4L163.6 190.6L165.5 190.8L167.5 190.9L169.5 191.0L171.5 191.1L173.5 191.1L175.4 191.1L177.4 191.1L179.4 191.0L181.4 191.0L183.4 191.0L185.3 190.9L187.3 190.8L189.3 190.7M110.1 184.4L112.1 184.4L114.1 184.4L116.0 184.5L118.0 184.5L120.0 184.5L122.0 184.5L124.0 184.5L125.9 184.5L127.9 184.6L129.9 184.6L131.9 184.6L133.9 184.7L135.8 184.7L137.8 184.7L139.8 184.8L141.8 185.0L143.8 185.3L145.7 185.5L147.7 185.7L149.7 185.8L151.7 185.8L153.7 185.8L155.6 185.8L157.6 185.8L159.6 185.8L161.6 185.8L163.6 185.8L165.5 185.8L167.5 185.7L169.5 185.7L171.5 185.7L173.5 185.6L175.4 185.5L177.4 185.4L179.4 185.3L181.4 185.2L183.4 185.0L185.3 184.9L187.3 184.7L189.3 184.6M110.1 196.1L112.1 196.0L114.1 195.9L116.0 195.7L118.0 195.6L120.0 195.3L122.0 195.1L124.0 194.8L125.9 194.4L127.9 194.0L129.9 193.5L131.9 193.0L133.9 192.5L135.8 192.1L137.8 191.7L139.8 191.4L141.8 191.1L143.8 190.8L145.7 190.6L147.7 190.4L149.7 190.3L151.7 190.3L153.7 190.3L155.6 190.3L157.6 190.3L159.6 190.4L161.6 190.5L163.6 190.7L165.5 190.9L167.5 191.1L169.5 191.3L171.5 191.4L173.5 191.5L175.4 191.6L177.4 191.7L179.4 191.8L181.4 191.9L183.4 192.0L185.3 192.1L187.3 192.1L189.3 192.2M110.1 214.4L112.1 214.2L114.1 213.9L116.0 213.5L118.0 213.1L120.0 212.6L122.0 211.8L124.0 210.9L125.9 209.9L127.9 208.8L129.9 207.7L131.9 206.7L133.9 205.7L135.8 204.7L137.8 203.7L139.8 202.6L141.8 201.6L143.8 200.6L145.7 199.6L147.7 198.6L149.7 197.7L151.7 196.8L153.7 195.8L155.6 195.0L157.6 194.2L159.6 193.4L161.6 192.8L163.6 192.2L165.5 191.6L167.5 191.2L169.5 191.0L171.5 190.9L173.5 190.8L175.4 190.7L177.4 190.7L179.4 190.7L181.4 190.7L183.4 190.8L185.3 191.0L187.3 191.2L189.3 191.4M110.1 217.8L112.1 217.8L114.1 217.8L116.0 217.8L118.0 217.8L120.0 217.8L122.0 217.8L124.0 217.8L125.9 217.8L127.9 217.8L129.9 217.8L131.9 217.7L133.9 217.6L135.8 217.5L137.8 217.3L139.8 217.1L141.8 216.8L143.8 216.4L145.7 215.9L147.7 215.5L149.7 215.0L151.7 214.5L153.7 214.0L155.6 213.4L157.6 212.8L159.6 212.2L161.6 211.7L163.6 211.2L165.5 210.8L167.5 210.3L169.5 209.9L171.5 209.5L173.5 209.2L175.4 208.9L177.4 208.6L179.4 208.3L181.4 208.2L183.4 208.0L185.3 207.9L187.3 207.9L189.3 207.8M110.1 216.4L112.1 216.4L114.1 216.5L116.0 216.5L118.0 216.6L120.0 216.7L122.0 216.9L124.0 217.0L125.9 217.2L127.9 217.3L129.9 217.5L131.9 217.7L133.9 218.0L135.8 218.4L137.8 218.7L139.8 219.1L141.8 219.4L143.8 219.6L145.7 219.7L147.7 219.8L149.7 219.9L151.7 220.0L153.7 220.0L155.6 220.1L157.6 220.1L159.6 220.1L161.6 220.1L163.6 220.1L165.5 220.1L167.5 220.1L169.5 220.1L171.5 220.1L173.5 220.1L175.4 220.1L177.4 220.1L179.4 220.1L181.4 220.0L183.4 220.0L185.3 220.0L187.3 220.0L189.3 220.0M110.1 221.3L112.1 221.4L114.1 221.4L116.0 221.4L118.0 221.5L120.0 221.5L122.0 221.5L124.0 221.5L125.9 221.6L127.9 221.6L129.9 221.6L131.9 221.6L133.9 221.6L135.8 221.6L137.8 221.6L139.8 221.6L141.8 221.5L143.8 221.5L145.7 221.5L147.7 221.4L149.7 221.4L151.7 221.4L153.7 221.3L155.6 221.3L157.6 221.3L159.6 221.3L161.6 221.3L163.6 221.3L165.5 221.3L167.5 221.2L169.5 221.2L171.5 221.2L173.5 221.2L175.4 221.2L177.4 221.2L179.4 221.2L181.4 221.2L183.4 221.2L185.3 221.2L187.3 221.2L189.3 221.2M110.1 224.5L112.1 224.5L114.1 224.5L116.0 224.5L118.0 224.5L120.0 224.5L122.0 224.5L124.0 224.5L125.9 224.5L127.9 224.5L129.9 224.5L131.9 224.4L133.9 224.3L135.8 224.1L137.8 224.0L139.8 223.9L141.8 223.8L143.8 223.7L145.7 223.6L147.7 223.4L149.7 223.3L151.7 223.1L153.7 223.0L155.6 222.9L157.6 222.7L159.6 222.6L161.6 222.5L163.6 222.5L165.5 222.4L167.5 222.4L169.5 222.4L171.5 222.4L173.5 222.4L175.4 222.3L177.4 222.3L179.4 222.3L181.4 222.3L183.4 222.3L185.3 222.3L187.3 222.3L189.3 222.3M110.1 226.3L112.1 226.3L114.1 226.3L116.0 226.3L118.0 226.3L120.0 226.3L122.0 226.3L124.0 226.3L125.9 226.3L127.9 226.3L129.9 226.3L131.9 226.3L133.9 226.3L135.8 226.3L137.8 226.3L139.8 226.2L141.8 226.1L143.8 226.0L145.7 225.8L147.7 225.7L149.7 225.6L151.7 225.4L153.7 225.2L155.6 225.0L157.6 224.7L159.6 224.5L161.6 224.3L163.6 224.2L165.5 224.1L167.5 224.1L169.5 224.1L171.5 224.1L173.5 224.2L175.4 224.2L177.4 224.2L179.4 224.3L181.4 224.3L183.4 224.4L185.3 224.6L187.3 224.7L189.3 224.9M110.1 241.7L112.1 240.2L114.1 238.7L116.0 237.2L118.0 235.8L120.0 234.5L122.0 233.2L124.0 231.9L125.9 230.7L127.9 229.6L129.9 228.4L131.9 227.1L133.9 225.8L135.8 224.7L137.8 223.7L139.8 222.8L141.8 222.1L143.8 221.6L145.7 221.3L147.7 221.0L149.7 220.7L151.7 220.6L153.7 220.5L155.6 220.5L157.6 220.6L159.6 220.6L161.6 220.6L163.6 220.6L165.5 220.6L167.5 220.7L169.5 220.7L171.5 220.7L173.5 220.8L175.4 220.9L177.4 221.0L179.4 221.1L181.4 221.2L183.4 221.3L185.3 221.4L187.3 221.6L189.3 221.7M110.1 241.7L112.1 241.1L114.1 240.5L116.0 239.9L118.0 239.3L120.0 238.7L122.0 238.1L124.0 237.5L125.9 236.9L127.9 236.2L129.9 235.6L131.9 235.0L133.9 234.4L135.8 233.8L137.8 233.2L139.8 232.6L141.8 232.0L143.8 231.4L145.7 230.8L147.7 230.1L149.7 229.5L151.7 228.9L153.7 228.3L155.6 227.7L157.6 227.2L159.6 226.7L161.6 226.2L163.6 225.7L165.5 225.3L167.5 225.0L169.5 224.6L171.5 224.3L173.5 224.1L175.4 223.8L177.4 223.7L179.4 223.7L181.4 223.6L183.4 223.6L185.3 223.5L187.3 223.5L189.3 223.5" stroke="#3030ff" stroke-width="0.75"/>
<path d="M110.1 131.1L112.1 131.1L114.1 131.2L116.0 131.2L118.0 131.3L120.0 131.3L122.0 131.3L124.0 131.4L125.9 131.4L127.9 131.5L129.9 131.5L131.9 131.6L133.9 131.6L135.8 131.6L137.8 131.7L139.8 131.7L141.8 131.8L143.8 131.8L145.7 131.9L147.7 131.9L149.7 132.0L151.7 132.0L153.7 132.1L155.6 132.1L157.6 132.2L159.6 132.2L161.6 132.3L163.6 132.4L165.5 132.4L167.5 132.5L169.5 132.5L171.5 132.6L173.5 132.6L175.4 132.7L177.4 132.8L179.4 132.8L181.4 132.9L183.4 133.0L185.3 133.0L187.3 133.1L189.3 133.1M110.1 168.7L112.1 168.7L114.1 168.8L116.0 168.9L118.0 168.9L120.0 169.0L122.0 169.1L124.0 169.1L125.9 169.2L127.9 169.3L129.9 169.4L131.9 169.5L133.9 169.6L135.8 169.7L137.8 169.8L139.8 169.9L141.8 170.1L143.8 170.2L145.7 170.3L147.7 170.5L149.7 170.6L151.7 170.8L153.7 170.9L155.6 171.1L157.6 171.2L159.6 171.3L161.6 171.4L163.6 171.5L165.5 171.7L167.5 171.8L169.5 171.9L171.5 172.0L173.5 172.1L175.4 172.2L177.4 172.3L179.4 172.4L181.4 172.5L183.4 172.6L185.3 172.7L187.3 172.8L189.3 172.9M110.1 172.0L112.1 172.0L114.1 172.0L116.0 172.0L118.0 172.0L120.0 172.0L122.0 172.1L124.0 172.1L125.9 172.1L127.9 172.1L129.9 172.1L131.9 172.2L133.9 172.2L135.8 172.2L137.8 172.3L139.8 172.3L141.8 172.4L143.8 172.4L145.7 172.5L147.7 172.6L149.7 172.7L151.7 172.7L153.7 172.8L155.6 172.9L157.6 172.9L159.6 173.0L161.6 173.1L163.6 173.1L165.5 173.2L167.5 173.3L169.5 173.3L171.5 173.4L173.5 173.5L175.4 173.5L177.4 173.6L179.4 173.7L181.4 173.7L183.4 173.8L185.3 173.9L187.3 174.0L189.3 174.0M110.1 173.2L112.1 173.2L114.1 173.2L116.0 173.2L118.0 173.2L120.0 173.3L122.0 173.3L124.0 173.3L125.9 173.3L127.9 173.3L129.9 173.3L131.9 173.4L133.9 173.4L135.8 173.4L137.8 173.4L139.8 173.4L141.8 173.5L143.8 173.5L145.7 173.5L147.7 173.6L149.7 173.6L151.7 173.7L153.7 173.7L155.6 173.8L157.6 173.8L159.6 173.9L161.6 174.0L163.6 174.0L165.5 174.1L167.5 174.2L169.5 174.3L171.5 174.4L173.5 174.5L175.4 174.6L177.4 174.7L179.4 174.8L181.4 174.9L183.4 175.0L185.3 175.1L187.3 175.2L189.3 175.3M110.1 193.5L112.1 193.3L114.1 193.0L116.0 192.7L118.0 192.4L120.0 192.1L122.0 191.7L124.0 191.3L125.9 190.8L127.9 190.3L129.9 189.7L131.9 189.2L133.9 188.8L135.8 188.3L137.8 187.9L139.8 187.4L141.8 186.9L143.8 186.2L145.7 185.5L147.7 184.6L149.7 183.7L151.7 182.7L153.7 181.9L155.6 181.1L157.6 180.3L159.6 179.5L161.6 178.7L163.6 177.9L165.5 177.2L167.5 176.6L169.5 176.1L171.5 175.7L173.5 175.4L175.4 175.3L177.4 175.2L179.4 175.2L181.4 175.1L183.4 175.1L185.3 175.2L187.3 175.3L189.3 175.4M110.1 189.5L112.1 189.5L114.1 189.5L116.0 189.4L118.0 189.3L120.0 189.2L122.0 189.1L124.0 189.0L125.9 188.9L127.9 188.7L129.9 188.5L131.9 188.3L133.9 188.0L135.8 187.8L137.8 187.6L139.8 187.3L141.8 186.9L143.8 186.5L145.7 186.0L147.7 185.5L149.7 184.9L151.7 184.4L153.7 183.8L155.6 183.2L157.6 182.6L159.6 182.1L161.6 181.6L163.6 181.2L165.5 180.8L167.5 180.3L169.5 180.0L171.5 179.6L173.5 179.3L175.4 179.0L177.4 178.7L179.4 178.4L181.4 178.2L183.4 178.0L185.3 177.8L187.3 177.6L189.3 177.5M110.1 184.0L112.1 184.0L114.1 184.0L116.0 184.0L118.0 184.0L120.0 184.1L122.0 184.1L124.0 184.1L125.9 184.1L127.9 184.1L129.9 184.1L131.9 184.2L133.9 184.2L135.8 184.3L137.8 184.6L139.8 185.0L141.8 185.3L143.8 185.3L145.7 185.3L147.7 185.3L149.7 185.3L151.7 185.2L153.7 185.2L155.6 185.1L157.6 185.1L159.6 185.0L161.6 184.9L163.6 184.8L165.5 184.6L167.5 184.5L169.5 184.4L171.5 184.3L173.5 184.2L175.4 184.1L177.4 184.1L179.4 184.0L181.4 183.9L183.4 183.9L185.3 183.9L187.3 183.8L189.3 183.8M110.1 186.1L112.1 186.1L114.1 186.1L116.0 186.1L118.0 186.1L120.0 186.2L122.0 186.2L124.0 186.3L125.9 186.3L127.9 186.4L129.9 186.4L131.9 186.5L133.9 186.6L135.8 186.7L137.8 186.9L139.8 187.1L141.8 187.3L143.8 187.5L145.7 187.7L147.7 187.8L149.7 187.8L151.7 187.9L153.7 188.0L155.6 188.0L157.6 188.1L159.6 188.1L161.6 188.2L163.6 188.2L165.5 188.3L167.5 188.3L169.5 188.4L171.5 188.4L173.5 188.4L175.4 188.5L177.4 188.5L179.4 188.6L181.4 188.6L183.4 188.7L185.3 188.7L187.3 188.7L189.3 188.8M110.1 188.4L112.1 188.2L114.1 188.1L116.0 188.0L118.0 187.9L120.0 187.8L122.0 187.8L124.0 187.7L125.9 187.7L127.9 187.7L129.9 187.7L131.9 187.7L133.9 187.7L135.8 187.7L137.8 187.8L139.8 187.9L141.8 188.1L143.8 188.2L145.7 188.4L147.7 188.6L149.7 188.9L151.7 189.3L153.7 189.7L155.6 190.0L157.6 190.2L159.6 190.4L161.6 190.7L163.6 190.9L165.5 191.0L167.5 191.2L169.5 191.3L171.5 191.3L173.5 191.3L175.4 191.3L177.4 191.3L179.4 191.3L181.4 191.3L183.4 191.2L185.3 191.2L187.3 191.1L189.3 191.0M110.1 184.6L112.1 184.6L114.1 184.6L116.0 184.6L118.0 184.6L120.0 184.7L122.0 184.7L124.0 184.7L125.9 184.7L127.9 184.7L129.9 184.8L131.9 184.8L133.9 184.8L135.8 184.9L137.8 184.9L139.8 185.0L141.8 185.2L143.8 185.4L145.7 185.7L147.7 185.9L149.7 185.9L151.7 185.9L153.7 185.9L155.6 185.9L157.6 185.9L159.6 185.9L161.6 185.9L163.6 185.9L165.5 185.9L167.5 185.9L169.5 185.9L171.5 185.8L173.5 185.8L175.4 185.7L177.4 185.6L179.4 185.5L181.4 185.3L183.4 185.2L185.3 185.1L187.3 184.9L189.3 184.8M110.1 196.3L112.1 196.2L114.1 196.1L116.0 196.0L118.0 195.8L120.0 195.6L122.0 195.3L124.0 195.0L125.9 194.7L127.9 194.2L129.9 193.7L131.9 193.2L133.9 192.8L135.8 192.4L137.8 192.0L139.8 191.6L141.8 191.3L143.8 191.1L145.7 190.8L147.7 190.7L149.7 190.6L151.7 190.6L153.7 190.6L155.6 190.6L157.6 190.6L159.6 190.6L161.6 190.8L163.6 190.9L165.5 191.1L167.5 191.3L169.5 191.5L171.5 191.7L173.5 191.8L175.4 191.9L177.4 192.0L179.4 192.1L181.4 192.2L183.4 192.2L185.3 192.3L187.3 192.4L189.3 192.4M110.1 215.1L112.1 214.9L114.1 214.6L116.0 214.2L118.0 213.8L120.0 213.3L122.0 212.5L124.0 211.6L125.9 210.6L127.9 209.6L129.9 208.6L131.9 207.6L133.9 206.6L135.8 205.6L137.8 204.6L139.8 203.6L141.8 202.6L143.8 201.6L145.7 200.6L147.7 199.7L149.7 198.8L151.7 197.8L153.7 197.0L155.6 196.1L157.6 195.3L159.6 194.6L161.6 194.0L163.6 193.4L165.5 192.9L167.5 192.4L169.5 192.2L171.5 192.1L173.5 192.0L175.4 192.0L177.4 191.9L179.4 191.9L181.4 192.0L183.4 192.1L185.3 192.2L187.3 192.4L189.3 192.6M110.1 217.8L112.1 217.8L114.1 217.8L116.0 217.8L118.0 217.8L120.0 217.8L122.0 217.8L124.0 217.8L125.9 217.8L127.9 217.8L129.9 217.8L131.9 217.8L133.9 217.7L135.8 217.5L137.8 217.3L139.8 217.1L141.8 216.8L143.8 216.4L145.7 216.0L147.7 215.5L149.7 215.1L151.7 214.6L153.7 214.0L155.6 213.4L157.6 212.8L159.6 212.3L161.6 211.8L163.6 211.3L165.5 210.8L167.5 210.4L169.5 209.9L171.5 209.5L173.5 209.2L175.4 208.9L177.4 208.7L179.4 208.4L181.4 208.2L183.4 208.1L185.3 208.0L187.3 207.9L189.3 207.9M110.1 216.9L112.1 216.9L114.1 217.0L116.0 217.0L118.0 217.1L120.0 217.2L122.0 217.4L124.0 217.5L125.9 217.7L127.9 217.8L129.9 218.0L131.9 218.2L133.9 218.5L135.8 218.8L137.8 219.2L139.8 219.5L141.8 219.8L143.8 220.0L145.7 220.1L147.7 220.2L149.7 220.3L151.7 220.4L153.7 220.5L155.6 220.5L157.6 220.5L159.6 220.5L161.6 220.5L163.6 220.5L165.5 220.5L167.5 220.5L169.5 220.5L171.5 220.5L173.5 220.5L175.4 220.5L177.4 220.5L179.4 220.5L181.4 220.5L183.4 220.5L185.3 220.4L187.3 220.4L189.3 220.4M110.1 221.4L112.1 221.5L114.1 221.5L116.0 221.5L118.0 221.6L120.0 221.6L122.0 221.6L124.0 221.6L125.9 221.7L127.9 221.7L129.9 221.7L131.9 221.7L133.9 221.7L135.8 221.7L137.8 221.7L139.8 221.7L141.8 221.6L143.8 221.6L145.7 221.6L147.7 221.5L149.7 221.5L151.7 221.5L153.7 221.4L155.6 221.4L157.6 221.4L159.6 221.4L161.6 221.4L163.6 221.4L165.5 221.4L167.5 221.3L169.5 221.3L171.5 221.3L173.5 221.3L175.4 221.3L177.4 221.3L179.4 221.3L181.4 221.3L183.4 221.3L185.3 221.3L187.3 221.3L189.3 221.3M110.1 224.9L112.1 224.9L114.1 224.9L116.0 224.9L118.0 224.9L120.0 224.9L122.0 224.9L124.0 224.9L125.9 224.9L127.9 224.9L129.9 224.8L131.9 224.7L133.9 224.6L135.8 224.5L137.8 224.4L139.8 224.3L141.8 224.2L143.8 224.1L145.7 224.0L147.7 223.8L149.7 223.7L151.7 223.5L153.7 223.4L155.6 223.3L157.6 223.2L159.6 223.1L161.6 223.0L163.6 222.9L165.5 222.9L167.5 222.8L169.5 222.8L171.5 222.8L173.5 222.8L175.4 222.8L177.4 222.8L179.4 222.7L181.4 222.7L183.4 222.7L185.3 222.7L187.3 222.7L189.3 222.7M110.1 226.4L112.1 226.4L114.1 226.4L116.0 226.4L118.0 226.4L120.0 226.4L122.0 226.4L124.0 226.4L125.9 226.4L127.9 226.4L129.9 226.4L131.9 226.4L133.9 226.4L135.8 226.4L137.8 226.3L139.8 226.2L141.8 226.1L143.8 226.0L145.7 225.9L147.7 225.8L149.7 225.6L151.7 225.5L153.7 225.3L155.6 225.0L157.6 224.8L159.6 224.6L161.6 224.4L163.6 224.2L165.5 224.2L167.5 224.2L169.5 224.2L171.5 224.2L173.5 224.2L175.4 224.2L177.4 224.3L179.4 224.3L181.4 224.4L183.4 224.5L185.3 224.6L187.3 224.7L189.3 224.9M110.1 241.7L112.1 240.2L114.1 238.7L116.0 237.3L118.0 235.9L120.0 234.5L122.0 233.2L124.0 232.0L125.9 230.8L127.9 229.6L129.9 228.5L131.9 227.2L133.9 225.9L135.8 224.8L137.8 223.8L139.8 222.9L141.8 222.2L143.8 221.7L145.7 221.4L147.7 221.1L149.7 220.9L151.7 220.7L153.7 220.7L155.6 220.7L157.6 220.7L159.6 220.7L161.6 220.7L163.6 220.7L165.5 220.8L167.5 220.8L169.5 220.8L171.5 220.9L173.5 220.9L175.4 221.0L177.4 221.1L179.4 221.2L181.4 221.3L183.4 221.4L185.3 221.6L187.3 221.7L189.3 221.8M110.1 241.7L112.1 241.1L114.1 240.5L116.0 239.9L118.0 239.3L120.0 238.7L122.0 238.1L124.0 237.5L125.9 236.9L127.9 236.3L129.9 235.7L131.9 235.1L133.9 234.5L135.8 233.9L137.8 233.3L139.8 232.7L141.8 232.1L143.8 231.6L145.7 230.9L147.7 230.3L149.7 229.7L151.7 229.1L153.7 228.5L155.6 227.9L157.6 227.4L159.6 226.9L161.6 226.5L163.6 226.0L165.5 225.6L167.5 225.2L169.5 224.9L171.5 224.6L173.5 224.4L175.4 224.2L177.4 224.0L179.4 224.0L181.4 223.9L183.4 223.9L185.3 223.8L187.3 223.8L189.3 223.8" stroke="#ffb0b0" stroke-width="0.50"/>
<path d="M110.1 131.1L112.1 131.2L114.1 131.2L116.0 131.3L118.0 131.3L120.0 131.3L122.0 131.4L124.0 131.4L125.9 131.5L127.9 131.5L129.9 131.6L131.9 131.6L133.9 131.6L135.8 131.7L137.8 131.7L139.8 131.8L141.8 131.8L143.8 131.9L145.7 131.9L147.7 132.0L149.7 132.0L151.7 132.1L153.7 132.1L155.6 132.2L157.6 132.2L159.6 132.3L161.6 132.3L163.6 132.4L165.5 132.5L167.5 132.5L169.5 132.6L171.5 132.6L173.5 132.7L175.4 132.7L177.4 132.8L179.4 132.9L181.4 132.9L183.4 133.0L185.3 133.1L187.3 133.1L189.3 133.2M110.1 168.9L112.1 169.0L114.1 169.0L116.0 169.1L118.0 169.1L120.0 169.2L122.0 169.3L124.0 169.4L125.9 169.4L127.9 169.5L129.9 169.6L131.9 169.7L133.9 169.8L135.8 169.9L137.8 170.0L139.8 170.1L141.8 170.3L143.8 170.4L145.7 170.6L147.7 170.7L149.7 170.8L151.7 171.0L153.7 171.1L155.6 171.3L157.6 171.4L159.6 171.5L161.6 171.6L163.6 171.8L165.5 171.9L167.5 172.0L169.5 172.1L171.5 172.2L173.5 172.3L175.4 172.4L177.4 172.5L179.4 172.6L181.4 172.7L183.4 172.8L185.3 172.9L187.3 173.0L189.3 173.1M110.1 172.1L112.1 172.1L114.1 172.1L116.0 172.1L118.0 172.2L120.0 172.2L122.0 172.2L124.0 172.2L125.9 172.2L127.9 172.3L129.9 172.3L131.9 172.3L133.9 172.3L135.8 172.4L137.8 172.4L139.8 172.5L141.8 172.5L143.8 172.6L145.7 172.7L147.7 172.7L149.7 172.8L151.7 172.9L153.7 172.9L155.6 173.0L157.6 173.1L159.6 173.1L161.6 173.2L163.6 173.3L165.5 173.3L167.5 173.4L169.5 173.5L171.5 173.5L173.5 173.6L175.4 173.7L177.4 173.7L179.4 173.8L181.4 173.9L183.4 173.9L185.3 174.0L187.3 174.1L189.3 174.2M110.1 173.3L112.1 173.3L114.1 173.3L116.0 173.3L118.0 173.4L120.0 173.4L122.0 173.4L124.0 173.4L125.9 173.4L127.9 173.4L129.9 173.4L131.9 173.5L133.9 173.5L135.8 173.5L137.8 173.5L139.8 173.5L141.8 173.6L143.8 173.6L145.7 173.6L147.7 173.7L149.7 173.7L151.7 173.8L153.7 173.8L155.6 173.9L157.6 173.9L159.6 174.0L161.6 174.1L163.6 174.1L165.5 174.2L167.5 174.3L169.5 174.4L171.5 174.5L173.5 174.6L175.4 174.7L177.4 174.8L179.4 174.9L181.4 175.0L183.4 175.1L185.3 175.2L187.3 175.3L189.3 175.4M110.1 193.9L112.1 193.7L114.1 193.4L116.0 193.1L118.0 192.8L120.0 192.4L122.0 192.1L124.0 191.7L125.9 191.2L127.9 190.7L129.9 190.1L131.9 189.6L133.9 189.2L135.8 188.7L137.8 188.3L139.8 187.8L141.8 187.3L143.8 186.6L145.7 185.9L147.7 185.1L149.7 184.1L151.7 183.2L153.7 182.3L155.6 181.5L157.6 180.7L159.6 180.0L161.6 179.2L163.6 178.4L165.5 177.7L167.5 177.1L169.5 176.6L171.5 176.2L173.5 175.9L175.4 175.8L177.4 175.7L179.4 175.7L181.4 175.6L183.4 175.6L185.3 175.7L187.3 175.8L189.3 175.9M110.1 189.8L112.1 189.8L114.1 189.7L116.0 189.7L118.0 189.6L120.0 189.5L122.0 189.4L124.0 189.3L125.9 189.1L127.9 189.0L129.9 188.8L131.9 188.5L133.9 188.3L135.8 188.1L137.8 187.8L139.8 187.6L141.8 187.2L143.8 186.8L145.7 186.3L147.7 185.7L149.7 185.2L151.7 184.6L153.7 184.1L155.6 183.5L157.6 182.9L159.6 182.4L161.6 181.9L163.6 181.5L165.5 181.1L167.5 180.6L169.5 180.3L171.5 179.9L173.5 179.6L175.4 179.3L177.4 179.0L179.4 178.7L181.4 178.5L183.4 178.3L185.3 178.1L187.3 177.9L189.3 177.8M110.1 184.3L112.1 184.3L114.1 184.3L116.0 184.3L118.0 184.3L120.0 184.3L122.0 184.4L124.0 184.4L125.9 184.4L127.9 184.4L129.9 184.4L131.9 184.4L133.9 184.5L135.8 184.6L137.8 184.9L139.8 185.3L141.8 185.5L143.8 185.6L145.7 185.6L147.7 185.6L149.7 185.6L151.7 185.5L153.7 185.5L155.6 185.4L157.6 185.3L159.6 185.3L161.6 185.2L163.6 185.0L165.5 184.9L167.5 184.8L169.5 184.7L171.5 184.5L173.5 184.5L175.4 184.4L177.4 184.3L179.4 184.3L181.4 184.2L183.4 184.2L185.3 184.1L187.3 184.1L189.3 184.1M110.1 186.6L112.1 186.6L114.1 186.6L116.0 186.6L118.0 186.6L120.0 186.7L122.0 186.7L124.0 186.8L125.9 186.8L127.9 186.9L129.9 186.9L131.9 187.0L133.9 187.1L135.8 187.2L137.8 187.4L139.8 187.6L141.8 187.8L143.8 188.0L145.7 188.2L147.7 188.2L149.7 188.3L151.7 188.4L153.7 188.4L155.6 188.5L157.6 188.6L159.6 188.6L161.6 188.7L163.6 188.7L165.5 188.7L167.5 188.8L169.5 188.8L171.5 188.9L173.5 188.9L175.4 189.0L177.4 189.0L179.4 189.0L181.4 189.1L183.4 189.1L185.3 189.2L187.3 189.2L189.3 189.2M110.1 188.7L112.1 188.5L114.1 188.4L116.0 188.3L118.0 188.2L120.0 188.1L122.0 188.0L124.0 188.0L125.9 188.0L127.9 188.0L129.9 188.0L131.9 188.0L133.9 188.0L135.8 188.0L137.8 188.1L139.8 188.2L141.8 188.3L143.8 188.5L145.7 188.7L147.7 188.9L149.7 189.2L151.7 189.6L153.7 189.9L155.6 190.2L157.6 190.5L159.6 190.7L161.6 190.9L163.6 191.1L165.5 191.3L167.5 191.4L169.5 191.5L171.5 191.6L173.5 191.6L175.4 191.6L177.4 191.6L179.4 191.6L181.4 191.5L183.4 191.5L185.3 191.4L187.3 191.3L189.3 191.2M110.1 184.8L112.1 184.8L114.1 184.8L116.0 184.8L118.0 184.8L120.0 184.8L122.0 184.8L124.0 184.9L125.9 184.9L127.9 184.9L129.9 184.9L131.9 185.0L133.9 185.0L135.8 185.0L137.8 185.1L139.8 185.2L141.8 185.4L143.8 185.6L145.7 185.8L147.7 186.0L149.7 186.1L151.7 186.1L153.7 186.1L155.6 186.1L157.6 186.1L159.6 186.1L161.6 186.1L163.6 186.1L165.5 186.1L167.5 186.1L169.5 186.1L171.5 186.0L173.5 185.9L175.4 185.8L177.4 185.7L179.4 185.6L181.4 185.5L183.4 185.4L185.3 185.2L187.3 185.1L189.3 184.9M110.1 196.5L112.1 196.5L114.1 196.4L116.0 196.2L118.0 196.0L120.0 195.8L122.0 195.6L124.0 195.3L125.9 194.9L127.9 194.4L129.9 193.9L131.9 193.5L133.9 193.0L135.8 192.6L137.8 192.2L139.8 191.9L141.8 191.6L143.8 191.3L145.7 191.1L147.7 190.9L149.7 190.9L151.7 190.9L153.7 190.9L155.6 190.9L157.6 190.9L159.6 190.9L161.6 191.0L163.6 191.2L165.5 191.4L167.5 191.6L169.5 191.8L171.5 191.9L173.5 192.0L175.4 192.1L177.4 192.2L179.4 192.3L181.4 192.4L183.4 192.5L185.3 192.6L187.3 192.6L189.3 192.7M110.1 215.7L112.1 215.6L114.1 215.3L116.0 214.9L118.0 214.5L120.0 214.0L122.0 213.2L124.0 212.4L125.9 211.4L127.9 210.4L129.9 209.4L131.9 208.4L133.9 207.5L135.8 206.5L137.8 205.5L139.8 204.5L141.8 203.5L143.8 202.6L145.7 201.6L147.7 200.7L149.7 199.8L151.7 198.9L153.7 198.1L155.6 197.2L157.6 196.5L159.6 195.8L161.6 195.2L163.6 194.6L165.5 194.1L167.5 193.7L169.5 193.4L171.5 193.3L173.5 193.3L175.4 193.2L177.4 193.2L179.4 193.2L181.4 193.2L183.4 193.3L185.3 193.5L187.3 193.6L189.3 193.9M110.1 217.9L112.1 217.9L114.1 217.9L116.0 217.9L118.0 217.9L120.0 217.9L122.0 217.9L124.0 217.9L125.9 217.9L127.9 217.9L129.9 217.9L131.9 217.8L133.9 217.7L135.8 217.6L137.8 217.4L139.8 217.2L141.8 216.9L143.8 216.5L145.7 216.0L147.7 215.6L149.7 215.1L151.7 214.6L153.7 214.1L155.6 213.5L157.6 212.9L159.6 212.3L161.6 211.8L163.6 211.3L165.5 210.9L167.5 210.4L169.5 210.0L171.5 209.6L173.5 209.3L175.4 209.0L177.4 208.7L179.4 208.5L181.4 208.3L183.4 208.2L185.3 208.1L187.3 208.0L189.3 208.0M110.1 217.4L112.1 217.4L114.1 217.4L116.0 217.5L118.0 217.6L120.0 217.7L122.0 217.9L124.0 218.0L125.9 218.1L127.9 218.3L129.9 218.4L131.9 218.7L133.9 218.9L135.8 219.3L137.8 219.6L139.8 220.0L141.8 220.2L143.8 220.4L145.7 220.5L147.7 220.7L149.7 220.7L151.7 220.8L153.7 220.9L155.6 220.9L157.6 221.0L159.6 221.0L161.6 221.0L163.6 221.0L165.5 221.0L167.5 220.9L169.5 220.9L171.5 220.9L173.5 220.9L175.4 220.9L177.4 220.9L179.4 220.9L181.4 220.9L183.4 220.9L185.3 220.9L187.3 220.8L189.3 220.8M110.1 221.5L112.1 221.6L114.1 221.6L116.0 221.6L118.0 221.7L120.0 221.7L122.0 221.7L124.0 221.7L125.9 221.8L127.9 221.8L129.9 221.8L131.9 221.8L133.9 221.8L135.8 221.8L137.8 221.8L139.8 221.8L141.8 221.7L143.8 221.7L145.7 221.7L147.7 221.6L149.7 221.6L151.7 221.6L153.7 221.5L155.6 221.5L157.6 221.5L159.6 221.5L161.6 221.5L163.6 221.5L165.5 221.5L167.5 221.4L169.5 221.4L171.5 221.4L173.5 221.4L175.4 221.4L177.4 221.4L179.4 221.4L181.4 221.4L183.4 221.4L185.3 221.4L187.3 221.4L189.3 221.4M110.1 225.3L112.1 225.3L114.1 225.3L116.0 225.3L118.0 225.3L120.0 225.3L122.0 225.3L124.0 225.3L125.9 225.3L127.9 225.3L129.9 225.2L131.9 225.1L133.9 225.0L135.8 224.9L137.8 224.8L139.8 224.7L141.8 224.6L143.8 224.5L145.7 224.4L147.7 224.2L149.7 224.1L151.7 224.0L153.7 223.8L155.6 223.7L157.6 223.6L159.6 223.5L161.6 223.4L163.6 223.3L165.5 223.3L167.5 223.3L169.5 223.2L171.5 223.2L173.5 223.2L175.4 223.2L177.4 223.2L179.4 223.2L181.4 223.2L183.4 223.2L185.3 223.2L187.3 223.1L189.3 223.1M110.1 226.4L112.1 226.4L114.1 226.4L116.0 226.4L118.0 226.4L120.0 226.4L122.0 226.4L124.0 226.4L125.9 226.4L127.9 226.4L129.9 226.4L131.9 226.4L133.9 226.4L135.8 226.4L137.8 226.3L139.8 226.3L141.8 226.2L143.8 226.1L145.7 225.9L147.7 225.8L149.7 225.7L151.7 225.5L153.7 225.3L155.6 225.1L157.6 224.8L159.6 224.6L161.6 224.4L163.6 224.3L165.5 224.2L167.5 224.2L169.5 224.2L171.5 224.2L173.5 224.3L175.4 224.3L177.4 224.3L179.4 224.4L181.4 224.4L183.4 224.5L185.3 224.7L187.3 224.8L189.3 225.0M110.1 241.7L112.1 240.2L114.1 238.7L116.0 237.3L118.0 235.9L120.0 234.6L122.0 233.3L124.0 232.0L125.9 230.9L127.9 229.7L129.9 228.5L131.9 227.3L133.9 226.0L135.8 224.9L137.8 224.0L139.8 223.1L141.8 222.3L143.8 221.8L145.7 221.5L147.7 221.2L149.7 221.0L151.7 220.9L153.7 220.8L155.6 220.8L157.6 220.8L159.6 220.8L161.6 220.8L163.6 220.9L165.5 220.9L167.5 220.9L169.5 221.0L171.5 221.0L173.5 221.0L175.4 221.1L177.4 221.2L179.4 221.3L181.4 221.4L183.4 221.6L185.3 221.7L187.3 221.8L189.3 222.0M110.1 241.7L112.1 241.1L114.1 240.5L116.0 239.9L118.0 239.4L120.0 238.8L122.0 238.2L124.0 237.6L125.9 237.0L127.9 236.4L129.9 235.8L131.9 235.3L133.9 234.7L135.8 234.1L137.8 233.5L139.8 232.9L141.8 232.3L143.8 231.7L145.7 231.1L147.7 230.5L149.7 229.9L151.7 229.3L153.7 228.7L155.6 228.2L157.6 227.7L159.6 227.2L161.6 226.7L163.6 226.3L165.5 225.9L167.5 225.5L169.5 225.2L171.5 224.9L173.5 224.7L175.4 224.5L177.4 224.3L179.4 224.3L181.4 224.2L183.4 224.2L185.3 224.2L187.3 224.1L189.3 224.1" stroke="#ff5050" stroke-width="0.75"/>
<path d="M110.1 131.2L112.1 131.2L114.1 131.3L116.0 131.3L118.0 131.3L120.0 131.4L122.0 131.4L124.0 131.5L125.9 131.5L127.9 131.5L129.9 131.6L131.9 131.6L133.9 131.7L135.8 131.7L137.8 131.8L139.8 131.8L141.8 131.9L143.8 131.9L145.7 132.0L147.7 132.0L149.7 132.1L151.7 132.1L153.7 132.2L155.6 132.2L157.6 132.3L159.6 132.3L161.6 132.4L163.6 132.4L165.5 132.5L167.5 132.5L169.5 132.6L171.5 132.7L173.5 132.7L175.4 132.8L177.4 132.8L179.4 132.9L181.4 133.0L183.4 133.0L185.3 133.1L187.3 133.2L189.3 133.2M110.1 169.1L112.1 169.2L114.1 169.2L116.0 169.3L118.0 169.4L120.0 169.4L122.0 169.5L124.0 169.6L125.9 169.7L127.9 169.7L129.9 169.8L131.9 169.9L133.9 170.0L135.8 170.1L137.8 170.2L139.8 170.3L141.8 170.5L143.8 170.6L145.7 170.8L147.7 170.9L149.7 171.1L151.7 171.2L153.7 171.3L155.6 171.5L157.6 171.6L159.6 171.7L161.6 171.8L163.6 172.0L165.5 172.1L167.5 172.2L169.5 172.3L171.5 172.4L173.5 172.5L175.4 172.6L177.4 172.7L179.4 172.8L181.4 173.0L183.4 173.1L185.3 173.2L187.3 173.3L189.3 173.3M110.1 172.3L112.1 172.3L114.1 172.3L116.0 172.3L118.0 172.3L120.0 172.3L122.0 172.3L124.0 172.4L125.9 172.4L127.9 172.4L129.9 172.4L131.9 172.5L133.9 172.5L135.8 172.5L137.8 172.6L139.8 172.6L141.8 172.7L143.8 172.7L145.7 172.8L147.7 172.9L149.7 172.9L151.7 173.0L153.7 173.1L155.6 173.1L157.6 173.2L159.6 173.3L161.6 173.3L163.6 173.4L165.5 173.5L167.5 173.5L169.5 173.6L171.5 173.7L173.5 173.7L175.4 173.8L177.4 173.9L179.4 173.9L181.4 174.0L183.4 174.1L185.3 174.2L187.3 174.2L189.3 174.3M110.1 173.4L112.1 173.4L114.1 173.4L116.0 173.4L118.0 173.5L120.0 173.5L122.0 173.5L124.0 173.5L125.9 173.5L127.9 173.5L129.9 173.5L131.9 173.6L133.9 173.6L135.8 173.6L137.8 173.6L139.8 173.6L141.8 173.7L143.8 173.7L145.7 173.7L147.7 173.8L149.7 173.8L151.7 173.9L153.7 173.9L155.6 174.0L157.6 174.0L159.6 174.1L161.6 174.2L163.6 174.2L165.5 174.3L167.5 174.4L169.5 174.5L171.5 174.6L173.5 174.7L175.4 174.8L177.4 174.9L179.4 175.0L181.4 175.1L183.4 175.2L185.3 175.3L187.3 175.4L189.3 175.5M110.1 194.2L112.1 194.0L114.1 193.8L116.0 193.5L118.0 193.2L120.0 192.8L122.0 192.4L124.0 192.0L125.9 191.6L127.9 191.0L129.9 190.5L131.9 190.0L133.9 189.6L135.8 189.1L137.8 188.7L139.8 188.2L141.8 187.7L143.8 187.0L145.7 186.3L147.7 185.5L149.7 184.6L151.7 183.6L153.7 182.8L155.6 182.0L157.6 181.2L159.6 180.4L161.6 179.6L163.6 178.9L165.5 178.2L167.5 177.6L169.5 177.1L171.5 176.7L173.5 176.4L175.4 176.3L177.4 176.2L179.4 176.2L181.4 176.1L183.4 176.1L185.3 176.2L187.3 176.3L189.3 176.4M110.1 190.0L112.1 190.0L114.1 190.0L116.0 189.9L118.0 189.8L120.0 189.8L122.0 189.7L124.0 189.6L125.9 189.4L127.9 189.2L129.9 189.0L131.9 188.8L133.9 188.6L135.8 188.4L137.8 188.1L139.8 187.8L141.8 187.5L143.8 187.1L145.7 186.6L147.7 186.0L149.7 185.5L151.7 184.9L153.7 184.4L155.6 183.8L157.6 183.2L159.6 182.7L161.6 182.2L163.6 181.8L165.5 181.4L167.5 181.0L169.5 180.6L171.5 180.2L173.5 179.9L175.4 179.6L177.4 179.3L179.4 179.1L181.4 178.8L183.4 178.6L185.3 178.4L187.3 178.2L189.3 178.1M110.1 184.6L112.1 184.6L114.1 184.6L116.0 184.6L118.0 184.6L120.0 184.6L122.0 184.6L124.0 184.7L125.9 184.7L127.9 184.7L129.9 184.7L131.9 184.7L133.9 184.8L135.8 184.9L137.8 185.2L139.8 185.6L141.8 185.8L143.8 185.9L145.7 185.9L147.7 185.9L149.7 185.8L151.7 185.8L153.7 185.7L155.6 185.7L157.6 185.6L159.6 185.5L161.6 185.4L163.6 185.3L165.5 185.2L167.5 185.1L169.5 184.9L171.5 184.8L173.5 184.8L175.4 184.7L177.4 184.6L179.4 184.6L181.4 184.5L183.4 184.5L185.3 184.4L187.3 184.4L189.3 184.4M110.1 187.0L112.1 187.1L114.1 187.1L116.0 187.1L118.0 187.1L120.0 187.1L122.0 187.2L124.0 187.2L125.9 187.3L127.9 187.3L129.9 187.4L131.9 187.5L133.9 187.5L135.8 187.7L137.8 187.9L139.8 188.1L141.8 188.3L143.8 188.5L145.7 188.6L147.7 188.7L149.7 188.8L151.7 188.9L153.7 188.9L155.6 189.0L157.6 189.0L159.6 189.1L161.6 189.1L163.6 189.2L165.5 189.2L167.5 189.2L169.5 189.3L171.5 189.3L173.5 189.4L175.4 189.4L177.4 189.5L179.4 189.5L181.4 189.5L183.4 189.6L185.3 189.6L187.3 189.7L189.3 189.7M110.1 188.9L112.1 188.8L114.1 188.6L116.0 188.5L118.0 188.4L120.0 188.4L122.0 188.3L124.0 188.3L125.9 188.2L127.9 188.2L129.9 188.2L131.9 188.2L133.9 188.2L135.8 188.2L137.8 188.3L139.8 188.5L141.8 188.6L143.8 188.8L145.7 188.9L147.7 189.2L149.7 189.5L151.7 189.8L153.7 190.2L155.6 190.5L157.6 190.7L159.6 191.0L161.6 191.2L163.6 191.4L165.5 191.5L167.5 191.7L169.5 191.8L171.5 191.8L173.5 191.8L175.4 191.8L177.4 191.8L179.4 191.8L181.4 191.8L183.4 191.7L185.3 191.7L187.3 191.6L189.3 191.5M110.1 185.0L112.1 185.0L114.1 185.0L116.0 185.0L118.0 185.0L120.0 185.0L122.0 185.0L124.0 185.0L125.9 185.1L127.9 185.1L129.9 185.1L131.9 185.1L133.9 185.2L135.8 185.2L137.8 185.2L139.8 185.4L141.8 185.5L143.8 185.8L145.7 186.0L147.7 186.2L149.7 186.3L151.7 186.3L153.7 186.3L155.6 186.3L157.6 186.3L159.6 186.3L161.6 186.3L163.6 186.3L165.5 186.3L167.5 186.3L169.5 186.2L171.5 186.2L173.5 186.1L175.4 186.0L177.4 185.9L179.4 185.8L181.4 185.7L183.4 185.5L185.3 185.4L187.3 185.3L189.3 185.1M110.1 196.7L112.1 196.7L114.1 196.6L116.0 196.4L118.0 196.2L120.0 196.0L122.0 195.8L124.0 195.5L125.9 195.1L127.9 194.7L129.9 194.2L131.9 193.7L133.9 193.3L135.8 192.9L137.8 192.5L139.8 192.1L141.8 191.8L143.8 191.6L145.7 191.4L147.7 191.2L149.7 191.1L151.7 191.1L153.7 191.1L155.6 191.1L157.6 191.1L159.6 191.2L161.6 191.3L163.6 191.4L165.5 191.6L167.5 191.8L169.5 192.0L171.5 192.2L173.5 192.3L175.4 192.4L177.4 192.5L179.4 192.6L181.4 192.7L183.4 192.7L185.3 192.8L187.3 192.9L189.3 192.9M110.1 216.4L112.1 216.2L114.1 216.0L116.0 215.6L118.0 215.2L120.0 214.7L122.0 214.0L124.0 213.1L125.9 212.2L127.9 211.2L129.9 210.2L131.9 209.3L133.9 208.4L135.8 207.4L137.8 206.5L139.8 205.5L141.8 204.5L143.8 203.6L145.7 202.7L147.7 201.8L149.7 200.9L151.7 200.0L153.7 199.2L155.6 198.4L157.6 197.6L159.6 197.0L161.6 196.4L163.6 195.8L165.5 195.3L167.5 194.9L169.5 194.7L171.5 194.6L173.5 194.5L175.4 194.4L177.4 194.4L179.4 194.4L181.4 194.4L183.4 194.5L185.3 194.7L187.3 194.9L189.3 195.1M110.1 217.9L112.1 217.9L114.1 217.9L116.0 217.9L118.0 217.9L120.0 217.9L122.0 217.9L124.0 217.9L125.9 217.9L127.9 217.9L129.9 217.9L131.9 217.9L133.9 217.8L135.8 217.6L137.8 217.4L139.8 217.2L141.8 216.9L143.8 216.5L145.7 216.1L147.7 215.6L149.7 215.2L151.7 214.7L153.7 214.1L155.6 213.5L157.6 213.0L159.6 212.4L161.6 211.9L163.6 211.4L165.5 210.9L167.5 210.5L169.5 210.1L171.5 209.7L173.5 209.3L175.4 209.1L177.4 208.8L179.4 208.5L181.4 208.4L183.4 208.2L185.3 208.1L187.3 208.1L189.3 208.0M110.1 217.9L112.1 217.9L114.1 217.9L116.0 218.0L118.0 218.1L120.0 218.2L122.0 218.3L124.0 218.5L125.9 218.6L127.9 218.8L129.9 218.9L131.9 219.1L133.9 219.4L135.8 219.7L137.8 220.1L139.8 220.4L141.8 220.7L143.8 220.9L145.7 221.0L147.7 221.1L149.7 221.2L151.7 221.3L153.7 221.3L155.6 221.4L157.6 221.4L159.6 221.4L161.6 221.4L163.6 221.4L165.5 221.4L167.5 221.4L169.5 221.4L171.5 221.4L173.5 221.4L175.4 221.4L177.4 221.3L179.4 221.3L181.4 221.3L183.4 221.3L185.3 221.3L187.3 221.3L189.3 221.2M110.1 221.6L112.1 221.7L114.1 221.7L116.0 221.7L118.0 221.8L120.0 221.8L122.0 221.8L124.0 221.8L125.9 221.9L127.9 221.9L129.9 221.9L131.9 221.9L133.9 221.9L135.8 221.9L137.8 221.9L139.8 221.9L141.8 221.8L143.8 221.8L145.7 221.8L147.7 221.7L149.7 221.7L151.7 221.7L153.7 221.6L155.6 221.6L157.6 221.6L159.6 221.6L161.6 221.6L163.6 221.6L165.5 221.6L167.5 221.5L169.5 221.5L171.5 221.5L173.5 221.5L175.4 221.5L177.4 221.5L179.4 221.5L181.4 221.5L183.4 221.5L185.3 221.5L187.3 221.5L189.3 221.5M110.1 225.7L112.1 225.7L114.1 225.7L116.0 225.7L118.0 225.7L120.0 225.7L122.0 225.7L124.0 225.7L125.9 225.7L127.9 225.6L129.9 225.6L131.9 225.5L133.9 225.4L135.8 225.3L137.8 225.2L139.8 225.1L141.8 225.0L143.8 224.9L145.7 224.8L147.7 224.6L149.7 224.5L151.7 224.4L153.7 224.2L155.6 224.1L157.6 224.0L159.6 223.9L161.6 223.8L163.6 223.7L165.5 223.7L167.5 223.7L169.5 223.7L171.5 223.7L173.5 223.6L175.4 223.6L177.4 223.6L179.4 223.6L181.4 223.6L183.4 223.6L185.3 223.6L187.3 223.6L189.3 223.6M110.1 226.5L112.1 226.5L114.1 226.5L116.0 226.5L118.0 226.5L120.0 226.5L122.0 226.5L124.0 226.5L125.9 226.5L127.9 226.5L129.9 226.5L131.9 226.5L133.9 226.5L135.8 226.4L137.8 226.4L139.8 226.3L141.8 226.2L143.8 226.1L145.7 226.0L147.7 225.9L149.7 225.7L151.7 225.6L153.7 225.4L155.6 225.1L157.6 224.9L159.6 224.7L161.6 224.5L163.6 224.3L165.5 224.3L167.5 224.3L169.5 224.3L171.5 224.3L173.5 224.3L175.4 224.3L177.4 224.4L179.4 224.4L181.4 224.5L183.4 224.6L185.3 224.7L187.3 224.8L189.3 225.0M110.1 241.7L112.1 240.2L114.1 238.7L116.0 237.3L118.0 235.9L120.0 234.6L122.0 233.3L124.0 232.1L125.9 230.9L127.9 229.8L129.9 228.6L131.9 227.4L133.9 226.1L135.8 225.0L137.8 224.1L139.8 223.2L141.8 222.4L143.8 221.9L145.7 221.6L147.7 221.4L149.7 221.1L151.7 221.0L153.7 220.9L155.6 220.9L157.6 221.0L159.6 221.0L161.6 221.0L163.6 221.0L165.5 221.0L167.5 221.1L169.5 221.1L171.5 221.1L173.5 221.2L175.4 221.3L177.4 221.3L179.4 221.4L181.4 221.6L183.4 221.7L185.3 221.8L187.3 221.9L189.3 222.1M110.1 241.7L112.1 241.1L114.1 240.6L116.0 240.0L118.0 239.4L120.0 238.8L122.0 238.3L124.0 237.7L125.9 237.1L127.9 236.5L129.9 235.9L131.9 235.4L133.9 234.8L135.8 234.2L137.8 233.6L139.8 233.1L141.8 232.5L143.8 231.9L145.7 231.3L147.7 230.7L149.7 230.1L151.7 229.5L153.7 229.0L155.6 228.4L157.6 227.9L159.6 227.4L161.6 227.0L163.6 226.6L165.5 226.2L167.5 225.8L169.5 225.5L171.5 225.2L173.5 225.0L175.4 224.8L177.4 224.7L179.4 224.6L181.4 224.5L183.4 224.5L185.3 224.5L187.3 224.4L189.3 224.4" stroke="#ff0000" stroke-width="1.40"/>
</g>
<rect x="110.1" y="117.3" width="79.2" height="124.4" fill="none" stroke="#7c7c7c" stroke-width="0.9"/>
<path d="M110.1 241.7h-1.9M110.1 234.4h-1.1M110.1 227.1h-1.9M110.1 219.8h-1.1M110.1 212.5h-1.9M110.1 205.2h-1.1M110.1 197.9h-1.9M110.1 190.6h-1.1M110.1 183.3h-1.9M110.1 176.0h-1.1M110.1 168.7h-1.9M110.1 161.4h-1.1M110.1 154.1h-1.9M110.1 146.8h-1.1M110.1 139.5h-1.9M110.1 132.2h-1.1M110.1 124.9h-1.9" stroke="#333" stroke-width="0.8" fill="none"/>
<text x="107" y="244.2" font-size="7" text-anchor="end">0</text>
<text x="107" y="229.6" font-size="7" text-anchor="end">2</text>
<text x="107" y="215.0" font-size="7" text-anchor="end">4</text>
<text x="107" y="200.4" font-size="7" text-anchor="end">6</text>
<text x="107" y="185.8" font-size="7" text-anchor="end">8</text>
<text x="107" y="171.2" font-size="7" text-anchor="end">10</text>
<text x="107" y="156.6" font-size="7" text-anchor="end">12</text>
<text x="107" y="142.0" font-size="7" text-anchor="end">14</text>
<text x="107" y="127.4" font-size="7" text-anchor="end">16</text>
<text transform="translate(95.0 179.4) rotate(-90)" font-size="8.4" text-anchor="middle">Frequency (THz)</text>
<text x="110.3" y="251.5" font-size="8.6" text-anchor="middle">Γ</text>
<text x="189.3" y="251.5" font-size="8.6" text-anchor="middle">F</text>
<path d="M110.1 241.7v2M189.3 241.7v2" stroke="#7c7c7c" stroke-width="0.9" fill="none"/>
<rect x="163.1" y="136.2" width="23.6" height="34" fill="#fff" stroke="#8a8a8a" stroke-width="0.5"/>
<path d="M164.8 139.8H175.4" stroke="#0000ff" stroke-width="1.25"/>
<text x="184.7" y="141.5" font-size="4.7" text-anchor="end" style="stroke-width:0.06px">-4%</text>
<path d="M164.8 146.6H175.4" stroke="#3030ff" stroke-width="0.80"/>
<text x="184.7" y="148.3" font-size="4.7" text-anchor="end" style="stroke-width:0.06px">-2%</text>
<path d="M164.8 153.4H175.4" stroke="#ffb0b0" stroke-width="0.80"/>
<text x="184.7" y="155.1" font-size="4.7" text-anchor="end" style="stroke-width:0.06px">0%</text>
<path d="M164.8 160.2H175.4" stroke="#ff5050" stroke-width="0.80"/>
<text x="184.7" y="161.9" font-size="4.7" text-anchor="end" style="stroke-width:0.06px">2%</text>
<path d="M164.8 167.0H175.4" stroke="#ff0000" stroke-width="1.40"/>
<text x="184.7" y="168.7" font-size="4.7" text-anchor="end" style="stroke-width:0.06px">4%</text>
</g>
<g id="panel-d">
<g clip-path="url(#cpD)">
<circle cx="264.4" cy="229.3" r="3.85" fill="#3fa79a"/>
<circle cx="268.0" cy="229.3" r="3.85" fill="#43ab9c"/>
<circle cx="271.7" cy="229.3" r="3.80" fill="#4db39f"/>
<circle cx="275.3" cy="229.3" r="3.35" fill="#a6dbb0"/>
<circle cx="279.0" cy="229.4" r="3.30" fill="#b7e2b2"/>
<circle cx="282.6" cy="229.6" r="3.20" fill="#c4e6b0"/>
<circle cx="286.3" cy="230.4" r="2.50" fill="#fdc47a"/>
<circle cx="289.9" cy="231.4" r="2.40" fill="#fdc07a"/>
<circle cx="293.5" cy="232.5" r="2.35" fill="#fdbb70"/>
<circle cx="297.2" cy="235.0" r="2.30" fill="#fdb96e"/>
<circle cx="300.8" cy="238.1" r="2.30" fill="#fdb56a"/>
<circle cx="304.5" cy="242.3" r="2.30" fill="#fdb066"/>
<circle cx="264.4" cy="216.0" r="2.45" fill="#fdc47c"/>
<circle cx="268.0" cy="216.0" r="2.45" fill="#fdc47c"/>
<circle cx="271.7" cy="216.0" r="2.45" fill="#fdc47c"/>
<circle cx="275.3" cy="216.0" r="2.45" fill="#fdc47c"/>
<circle cx="279.0" cy="216.8" r="2.45" fill="#fdc47c"/>
<circle cx="282.6" cy="220.3" r="1.6" fill="#f67c4e" stroke="#ea3a0a" stroke-width="0.6"/>
<circle cx="286.3" cy="223.9" r="1.6" fill="#f67c4e" stroke="#ea3a0a" stroke-width="0.6"/>
<circle cx="289.9" cy="227.9" r="1.6" fill="#f67c4e" stroke="#ea3a0a" stroke-width="0.6"/>
<g fill="#5a0c28" fill-opacity="1"><circle cx="264.4" cy="196.0" r="0.70"/><circle cx="268.0" cy="199.3" r="0.70"/><circle cx="271.7" cy="202.4" r="0.70"/><circle cx="275.3" cy="205.0" r="0.70"/><circle cx="279.0" cy="207.6" r="0.70"/><circle cx="282.6" cy="210.1" r="0.70"/><circle cx="286.3" cy="213.6" r="0.70"/><circle cx="289.9" cy="218.9" r="0.70"/><circle cx="293.5" cy="222.2" r="0.70"/><circle cx="297.2" cy="226.0" r="0.70"/><circle cx="300.8" cy="229.9" r="0.70"/><circle cx="304.5" cy="233.8" r="0.70"/><circle cx="308.1" cy="237.8" r="0.70"/><circle cx="311.8" cy="242.3" r="0.70"/></g>
<g fill="#6a0c2c" fill-opacity="1"><circle cx="264.4" cy="200.0" r="0.60"/><circle cx="268.0" cy="206.5" r="0.60"/><circle cx="271.7" cy="209.6" r="0.60"/><circle cx="275.3" cy="210.2" r="0.60"/><circle cx="279.0" cy="210.9" r="0.60"/><circle cx="282.6" cy="213.1" r="0.60"/><circle cx="286.3" cy="214.5" r="0.60"/><circle cx="289.9" cy="215.5" r="0.60"/><circle cx="293.5" cy="216.3" r="0.60"/><circle cx="297.2" cy="217.0" r="0.60"/></g>
<g fill="#6a0c2c" fill-opacity="1"><circle cx="264.4" cy="204.0" r="0.55"/><circle cx="268.0" cy="208.6" r="0.55"/><circle cx="271.7" cy="213.7" r="0.55"/></g>
<circle cx="264.4" cy="196.5" r="0.55" fill="#7a1030"/>
<circle cx="264.4" cy="200.5" r="0.55" fill="#7a1030"/>
<circle cx="264.4" cy="204.5" r="0.55" fill="#7a1030"/>
<circle cx="264.4" cy="208.3" r="0.55" fill="#7a1030"/>
<g fill="#9c1038" fill-opacity="1"><circle cx="264.4" cy="197.5" r="0.55"/><circle cx="268.0" cy="200.8" r="0.64"/><circle cx="271.7" cy="202.3" r="0.73"/><circle cx="275.3" cy="205.2" r="0.82"/><circle cx="279.0" cy="207.6" r="0.91"/><circle cx="282.6" cy="210.1" r="1.00"/><circle cx="286.3" cy="213.2" r="1.09"/><circle cx="289.9" cy="215.5" r="1.18"/><circle cx="293.5" cy="216.0" r="1.20"/><circle cx="297.2" cy="216.8" r="1.20"/><circle cx="300.8" cy="217.1" r="1.20"/><circle cx="304.5" cy="217.3" r="1.20"/><circle cx="308.1" cy="217.6" r="1.20"/><circle cx="311.8" cy="217.9" r="1.20"/><circle cx="315.4" cy="218.2" r="1.20"/><circle cx="319.0" cy="218.6" r="1.20"/><circle cx="322.7" cy="219.0" r="1.20"/><circle cx="326.3" cy="219.4" r="1.20"/><circle cx="330.0" cy="219.7" r="1.20"/><circle cx="333.6" cy="220.0" r="1.20"/><circle cx="337.3" cy="220.3" r="1.20"/><circle cx="340.9" cy="220.6" r="1.20"/></g>
<g fill="#b3123c" fill-opacity="1"><circle cx="264.4" cy="194.7" r="0.85"/><circle cx="268.0" cy="197.1" r="0.95"/><circle cx="271.7" cy="199.5" r="1.05"/><circle cx="275.3" cy="202.4" r="1.15"/><circle cx="279.0" cy="204.3" r="1.25"/><circle cx="282.6" cy="206.4" r="1.35"/><circle cx="286.3" cy="208.2" r="1.40"/><circle cx="289.9" cy="209.5" r="1.40"/><circle cx="293.5" cy="210.8" r="1.40"/><circle cx="297.2" cy="212.3" r="1.40"/><circle cx="300.8" cy="213.7" r="1.40"/><circle cx="304.5" cy="214.7" r="1.40"/><circle cx="308.1" cy="216.0" r="1.40"/><circle cx="311.8" cy="217.1" r="1.40"/><circle cx="315.4" cy="217.9" r="1.40"/><circle cx="319.0" cy="218.5" r="1.40"/><circle cx="322.7" cy="218.9" r="1.40"/><circle cx="326.3" cy="219.2" r="1.40"/><circle cx="330.0" cy="219.7" r="1.40"/><circle cx="333.6" cy="220.0" r="1.40"/><circle cx="337.3" cy="220.2" r="1.40"/><circle cx="340.9" cy="220.5" r="1.40"/></g>
<g fill="#f67c4e" fill-opacity="1" stroke="#ea3a0a" stroke-width="0.6"><circle cx="264.4" cy="192.9" r="1.62"/><circle cx="268.0" cy="193.0" r="1.62"/><circle cx="271.7" cy="193.6" r="1.62"/><circle cx="275.3" cy="194.8" r="1.62"/><circle cx="279.0" cy="196.6" r="1.62"/><circle cx="282.6" cy="199.0" r="1.62"/><circle cx="286.3" cy="202.0" r="1.62"/><circle cx="289.9" cy="205.8" r="1.62"/><circle cx="293.5" cy="210.4" r="1.62"/><circle cx="297.2" cy="216.2" r="1.62"/><circle cx="300.8" cy="222.4" r="1.62"/><circle cx="304.5" cy="227.3" r="1.62"/><circle cx="308.1" cy="233.2" r="1.62"/><circle cx="311.8" cy="238.9" r="1.62"/><circle cx="315.4" cy="244.4" r="1.62"/></g>
<g fill="#f67c4e" stroke="#ea3a0a" stroke-width="0.6"><circle cx="264.4" cy="129.0" r="1.6"/><circle cx="267.7" cy="127.2" r="1.6"/><circle cx="271.2" cy="124.9" r="1.6"/><circle cx="274.8" cy="121.6" r="1.6"/><circle cx="278.4" cy="118.0" r="1.6"/><circle cx="282.0" cy="114.0" r="1.6"/></g>
</g>
<rect x="263.4" y="117.3" width="77.3" height="123.8" fill="none" stroke="#7c7c7c" stroke-width="0.9"/>
<path d="M263.4 241.3h-2.4M263.4 225.8h-1.3M263.4 210.3h-2.4M263.4 194.8h-1.3M263.4 179.3h-2.4M263.4 163.8h-1.3M263.4 148.3h-2.4M263.4 132.8h-1.3M263.4 117.3h-2.4" stroke="#333" stroke-width="0.8" fill="none"/>
<text x="259" y="119.8" font-size="7" text-anchor="end">2</text>
<text x="259" y="150.8" font-size="7" text-anchor="end">1</text>
<text x="259" y="181.8" font-size="7" text-anchor="end">0</text>
<text x="259" y="212.8" font-size="7" text-anchor="end">-1</text>
<text x="259" y="243.8" font-size="7" text-anchor="end">-2</text>
<text transform="translate(249.5 178.8) rotate(-90)" font-size="8.4" text-anchor="middle">Energy (eV)</text>
<text x="263.6" y="251.5" font-size="8.6" text-anchor="middle">Γ</text>
<text x="340.7" y="251.5" font-size="8.6" text-anchor="middle">F</text>
<path d="M263.4 241.1v2M340.7 241.1v2" stroke="#7c7c7c" stroke-width="0.9" fill="none"/>
<rect x="348.6" y="133.6" width="8.5" height="104.3" fill="url(#gCB)"/>
<rect x="348.6" y="133.6" width="8.5" height="104.3" fill="none" stroke="#444" stroke-width="0.4"/>
<text x="361.6" y="135.9" font-size="6.4">0.20</text>
<text x="361.6" y="162.0" font-size="6.4">0.15</text>
<text x="361.6" y="188.1" font-size="6.4">0.10</text>
<text x="361.6" y="214.2" font-size="6.4">0.05</text>
<text x="361.6" y="240.2" font-size="6.4">0.00</text>
<path d="M357.1 133.6h1.6M357.1 159.7h1.6M357.1 185.8h1.6M357.1 211.8h1.6M357.1 237.9h1.6" stroke="#444" stroke-width="0.6" fill="none"/>
<text x="344.0" y="127.2" font-size="7">|E-E<tspan font-size="4.8" dy="1.3">0</tspan><tspan dy="-1.3">|</tspan></text>
</g>
</svg></body></html>
